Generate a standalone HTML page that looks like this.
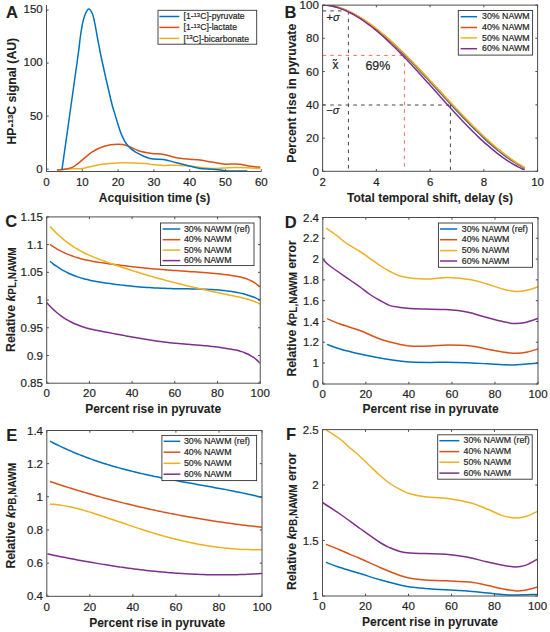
<!DOCTYPE html><html><head><meta charset="utf-8"><style>html,body{margin:0;padding:0;background:#fff;}svg{display:block;}text{font-family:"Liberation Sans", sans-serif;stroke:#1f1f1f;stroke-width:0.2px;}text[font-weight=bold]{stroke-width:0.08px;}</style></head><body>
<svg width="550" height="632" viewBox="0 0 550 632">
<rect width="550" height="632" fill="#fff"/>
<defs>
<clipPath id="cA"><rect x="46.50" y="0.00" width="214.80" height="171.60"/></clipPath>
<clipPath id="cB"><rect x="322.60" y="5.10" width="215.00" height="166.20"/></clipPath>
<clipPath id="cC"><rect x="46.70" y="216.90" width="213.50" height="166.30"/></clipPath>
<clipPath id="cD"><rect x="322.80" y="217.50" width="215.20" height="166.50"/></clipPath>
<clipPath id="cE"><rect x="46.80" y="430.50" width="215.20" height="165.80"/></clipPath>
<clipPath id="cF"><rect x="322.50" y="429.60" width="215.00" height="166.40"/></clipPath>
</defs>
<path d="M56.90,170.00 C59.63,169.80 69.05,169.07 73.30,168.80 C77.55,168.53 77.87,169.12 82.40,168.40 C86.93,167.68 94.60,165.42 100.50,164.50 C106.40,163.58 110.37,163.07 117.80,162.90 C125.23,162.73 139.43,163.23 145.10,163.50 C150.77,163.77 148.72,164.18 151.80,164.50 C154.88,164.82 159.65,165.28 163.60,165.40 C167.55,165.52 171.55,165.13 175.50,165.20 C179.45,165.27 183.22,165.47 187.30,165.80 C191.38,166.13 195.92,166.77 200.00,167.20 C204.08,167.63 207.87,168.27 211.80,168.40 C215.73,168.53 219.65,168.15 223.60,168.00 C227.55,167.85 231.55,167.53 235.50,167.50 C239.45,167.47 243.17,167.62 247.30,167.80 C251.43,167.98 258.13,168.47 260.30,168.60" fill="none" stroke="#edb120" stroke-width="1.5" stroke-linejoin="round" stroke-linecap="butt" clip-path="url(#cA)"/>
<path d="M56.90,170.00 C59.63,169.47 67.53,169.75 73.30,166.80 C79.07,163.85 86.35,155.72 91.50,152.30 C96.65,148.88 99.82,147.63 104.20,146.30 C108.58,144.97 113.95,144.40 117.80,144.30 C121.65,144.20 123.75,144.58 127.30,145.70 C130.85,146.82 135.02,149.72 139.10,151.00 C143.18,152.28 147.72,152.83 151.80,153.40 C155.88,153.97 159.65,153.72 163.60,154.40 C167.55,155.08 171.55,156.72 175.50,157.50 C179.45,158.28 183.22,158.67 187.30,159.10 C191.38,159.53 195.92,159.60 200.00,160.10 C204.08,160.60 207.87,161.43 211.80,162.10 C215.73,162.77 219.65,163.80 223.60,164.10 C227.55,164.40 232.53,163.83 235.50,163.90 C238.47,163.97 238.85,164.10 241.40,164.50 C243.95,164.90 247.65,165.85 250.80,166.30 C253.95,166.75 258.72,167.05 260.30,167.20" fill="none" stroke="#d95319" stroke-width="1.5" stroke-linejoin="round" stroke-linecap="butt" clip-path="url(#cA)"/>
<path d="M61.90,170.20 C64.48,151.83 74.35,82.03 77.40,60.00 C80.45,37.97 79.35,44.05 80.20,38.00 C81.05,31.95 81.67,27.67 82.50,23.70 C83.33,19.73 84.15,16.65 85.20,14.20 C86.25,11.75 87.57,9.00 88.80,9.00 C90.03,9.00 91.58,11.75 92.60,14.20 C93.62,16.65 94.08,19.73 94.90,23.70 C95.72,27.67 96.35,31.95 97.50,38.00 C98.65,44.05 99.57,49.67 101.80,60.00 C104.03,70.33 108.83,91.35 110.90,100.00 C112.97,108.65 113.05,107.95 114.20,111.90 C115.35,115.85 116.52,119.75 117.80,123.70 C119.08,127.65 120.32,132.03 121.90,135.60 C123.48,139.17 125.02,142.33 127.30,145.10 C129.58,147.87 131.85,149.98 135.60,152.20 C139.35,154.42 145.13,157.18 149.80,158.40 C154.47,159.62 159.32,158.82 163.60,159.50 C167.88,160.18 171.55,161.52 175.50,162.50 C179.45,163.48 183.22,164.38 187.30,165.40 C191.38,166.42 195.92,167.97 200.00,168.60 C204.08,169.23 207.87,168.90 211.80,169.20 C215.73,169.50 220.65,170.10 223.60,170.40 C226.55,170.70 225.55,170.90 229.50,171.00 C233.45,171.10 244.33,171.00 247.30,171.00" fill="none" stroke="#0072bd" stroke-width="1.5" stroke-linejoin="round" stroke-linecap="butt" clip-path="url(#cA)"/>
<path d="M46.50,5.00 L46.50,171.50 L261.30,171.50" fill="none" stroke="#4d4d4d" stroke-width="1"/>
<line x1="46.50" y1="171.50" x2="46.50" y2="169.30" stroke="#4d4d4d" stroke-width="1"/>
<text x="46.50" y="185.70" font-size="11.5" text-anchor="middle" font-weight="normal" fill="#1f1f1f">0</text>
<line x1="82.30" y1="171.50" x2="82.30" y2="169.30" stroke="#4d4d4d" stroke-width="1"/>
<text x="82.30" y="185.70" font-size="11.5" text-anchor="middle" font-weight="normal" fill="#1f1f1f">10</text>
<line x1="118.10" y1="171.50" x2="118.10" y2="169.30" stroke="#4d4d4d" stroke-width="1"/>
<text x="118.10" y="185.70" font-size="11.5" text-anchor="middle" font-weight="normal" fill="#1f1f1f">20</text>
<line x1="153.90" y1="171.50" x2="153.90" y2="169.30" stroke="#4d4d4d" stroke-width="1"/>
<text x="153.90" y="185.70" font-size="11.5" text-anchor="middle" font-weight="normal" fill="#1f1f1f">30</text>
<line x1="189.70" y1="171.50" x2="189.70" y2="169.30" stroke="#4d4d4d" stroke-width="1"/>
<text x="189.70" y="185.70" font-size="11.5" text-anchor="middle" font-weight="normal" fill="#1f1f1f">40</text>
<line x1="225.50" y1="171.50" x2="225.50" y2="169.30" stroke="#4d4d4d" stroke-width="1"/>
<text x="225.50" y="185.70" font-size="11.5" text-anchor="middle" font-weight="normal" fill="#1f1f1f">50</text>
<line x1="261.30" y1="171.50" x2="261.30" y2="169.30" stroke="#4d4d4d" stroke-width="1"/>
<text x="261.30" y="185.70" font-size="11.5" text-anchor="middle" font-weight="normal" fill="#1f1f1f">60</text>
<line x1="46.50" y1="169.20" x2="48.70" y2="169.20" stroke="#4d4d4d" stroke-width="1"/>
<text x="42.70" y="172.60" font-size="11.5" text-anchor="end" font-weight="normal" fill="#1f1f1f">0</text>
<line x1="46.50" y1="116.13" x2="48.70" y2="116.13" stroke="#4d4d4d" stroke-width="1"/>
<text x="42.70" y="119.53" font-size="11.5" text-anchor="end" font-weight="normal" fill="#1f1f1f">50</text>
<line x1="46.50" y1="63.07" x2="48.70" y2="63.07" stroke="#4d4d4d" stroke-width="1"/>
<text x="42.70" y="66.47" font-size="11.5" text-anchor="end" font-weight="normal" fill="#1f1f1f">100</text>
<line x1="46.50" y1="10.00" x2="48.70" y2="10.00" stroke="#4d4d4d" stroke-width="1"/>
<text x="42.70" y="13.40" font-size="11.5" text-anchor="end" font-weight="normal" fill="#1f1f1f">150</text>
<rect x="158.00" y="10.30" width="98.70" height="33.90" fill="#fff" stroke="#333" stroke-width="0.9"/>
<line x1="159.40" y1="16.50" x2="179.30" y2="16.50" stroke="#0072bd" stroke-width="1.5"/>
<text x="183.50" y="19.10" font-size="8.6" text-anchor="start" font-weight="normal" fill="#1f1f1f">[1-<tspan font-size="6" dy="-2.2">13</tspan><tspan dy="2.2">C]-pyruvate</tspan></text>
<line x1="159.40" y1="27.40" x2="179.30" y2="27.40" stroke="#d95319" stroke-width="1.5"/>
<text x="183.50" y="30.00" font-size="8.6" text-anchor="start" font-weight="normal" fill="#1f1f1f">[1-<tspan font-size="6" dy="-2.2">13</tspan><tspan dy="2.2">C]-lactate</tspan></text>
<line x1="159.40" y1="38.40" x2="179.30" y2="38.40" stroke="#edb120" stroke-width="1.5"/>
<text x="183.50" y="41.50" font-size="8.6" text-anchor="start" font-weight="normal" fill="#1f1f1f">[<tspan font-size="6" dy="-2.2">13</tspan><tspan dy="2.2">C]-bicarbonate</tspan></text>
<text x="154.50" y="201.80" font-size="12" text-anchor="middle" font-weight="bold" fill="#1f1f1f">Acquisition time (s)</text>
<text transform="translate(15.8,91.2) rotate(-90)" font-size="12.25" font-weight="bold" text-anchor="middle" fill="#1f1f1f">HP-<tspan font-size="7.8" dy="-2.4">13</tspan><tspan dy="2.4">C signal (AU)</tspan></text>
<text x="6.00" y="18.00" font-size="16.5" text-anchor="start" font-weight="bold" fill="#1f1f1f">A</text>
<line x1="322.60" y1="10.9" x2="348.4" y2="10.9" stroke="#444" stroke-width="1" stroke-dasharray="3.5 4.2"/>
<line x1="348.4" y1="11" x2="348.4" y2="171.3" stroke="#444" stroke-width="1" stroke-dasharray="3.5 4.2"/>
<line x1="322.60" y1="55.4" x2="404.4" y2="55.4" stroke="#ff6a5a" stroke-width="1" stroke-dasharray="3.5 4.2"/>
<line x1="404.4" y1="55.4" x2="404.4" y2="171.3" stroke="#ff6a5a" stroke-width="1" stroke-dasharray="3.5 4.2"/>
<line x1="322.60" y1="105" x2="450.4" y2="105" stroke="#444" stroke-width="1" stroke-dasharray="3.5 4.2"/>
<line x1="450.4" y1="105" x2="450.4" y2="171.3" stroke="#444" stroke-width="1" stroke-dasharray="3.5 4.2"/>
<path d="M322.60,5.20 C323.27,5.16 325.27,4.90 326.60,4.97 C327.93,5.03 329.27,5.33 330.60,5.58 C331.93,5.84 333.27,6.13 334.60,6.47 C335.93,6.81 337.27,7.20 338.60,7.62 C339.93,8.04 341.27,8.51 342.60,9.01 C343.93,9.52 345.27,10.06 346.60,10.65 C347.93,11.23 349.27,11.85 350.60,12.51 C351.93,13.17 353.27,13.86 354.60,14.59 C355.93,15.32 357.27,16.08 358.60,16.88 C359.93,17.68 361.27,18.51 362.60,19.37 C363.93,20.23 365.27,21.13 366.60,22.05 C367.93,22.97 369.27,23.92 370.60,24.90 C371.93,25.88 373.27,26.89 374.60,27.93 C375.93,28.96 377.27,30.03 378.60,31.11 C379.93,32.20 381.27,33.31 382.60,34.45 C383.93,35.58 385.27,36.74 386.60,37.92 C387.93,39.10 389.27,40.30 390.60,41.52 C391.93,42.74 393.27,43.98 394.60,45.24 C395.93,46.50 397.27,47.77 398.60,49.07 C399.93,50.36 401.27,51.67 402.60,52.99 C403.93,54.32 405.27,55.66 406.60,57.01 C407.93,58.36 409.27,59.73 410.60,61.10 C411.93,62.48 413.27,63.87 414.60,65.27 C415.93,66.66 417.27,68.07 418.60,69.49 C419.93,70.90 421.27,72.33 422.60,73.76 C423.93,75.19 425.27,76.63 426.60,78.07 C427.93,79.51 429.27,80.96 430.60,82.41 C431.93,83.86 433.27,85.31 434.60,86.76 C435.93,88.22 437.27,89.67 438.60,91.13 C439.93,92.59 441.27,94.04 442.60,95.50 C443.93,96.95 445.27,98.40 446.60,99.85 C447.93,101.30 449.27,102.74 450.60,104.18 C451.93,105.62 453.27,107.06 454.60,108.48 C455.93,109.91 457.27,111.33 458.60,112.74 C459.93,114.16 461.27,115.56 462.60,116.95 C463.93,118.35 465.27,119.73 466.60,121.10 C467.93,122.47 469.27,123.83 470.60,125.18 C471.93,126.52 473.27,127.86 474.60,129.18 C475.93,130.49 477.27,131.80 478.60,133.08 C479.93,134.37 481.27,135.63 482.60,136.88 C483.93,138.13 485.27,139.37 486.60,140.58 C487.93,141.79 489.27,142.98 490.60,144.15 C491.93,145.32 493.27,146.47 494.60,147.59 C495.93,148.71 497.27,149.81 498.60,150.89 C499.93,151.96 501.27,153.01 502.60,154.04 C503.93,155.06 505.27,156.06 506.60,157.02 C507.93,157.99 509.27,158.93 510.60,159.84 C511.93,160.75 513.27,161.63 514.60,162.48 C515.93,163.32 517.27,164.14 518.60,164.92 C519.93,165.70 521.57,166.60 522.60,167.16 C523.63,167.73 524.43,168.12 524.80,168.31" fill="none" stroke="#0072bd" stroke-width="1.5" stroke-linejoin="round" stroke-linecap="butt" clip-path="url(#cB)"/>
<path d="M322.60,5.20 C323.27,5.15 325.27,4.85 326.60,4.91 C327.93,4.96 329.27,5.27 330.60,5.52 C331.93,5.77 333.27,6.07 334.60,6.40 C335.93,6.74 337.27,7.12 338.60,7.53 C339.93,7.95 341.27,8.41 342.60,8.91 C343.93,9.41 345.27,9.95 346.60,10.52 C347.93,11.10 349.27,11.71 350.60,12.36 C351.93,13.01 353.27,13.70 354.60,14.41 C355.93,15.13 357.27,15.89 358.60,16.67 C359.93,17.46 361.27,18.28 362.60,19.13 C363.93,19.98 365.27,20.86 366.60,21.77 C367.93,22.68 369.27,23.62 370.60,24.58 C371.93,25.55 373.27,26.55 374.60,27.57 C375.93,28.59 377.27,29.64 378.60,30.71 C379.93,31.78 381.27,32.88 382.60,34.00 C383.93,35.11 385.27,36.26 386.60,37.42 C387.93,38.58 389.27,39.77 390.60,40.98 C391.93,42.18 393.27,43.41 394.60,44.65 C395.93,45.89 397.27,47.15 398.60,48.43 C399.93,49.71 401.27,51.00 402.60,52.31 C403.93,53.62 405.27,54.94 406.60,56.28 C407.93,57.61 409.27,58.96 410.60,60.33 C411.93,61.69 413.27,63.06 414.60,64.44 C415.93,65.83 417.27,67.22 418.60,68.62 C419.93,70.02 421.27,71.44 422.60,72.85 C423.93,74.27 425.27,75.69 426.60,77.12 C427.93,78.55 429.27,79.99 430.60,81.42 C431.93,82.86 433.27,84.30 434.60,85.75 C435.93,87.19 437.27,88.63 438.60,90.08 C439.93,91.52 441.27,92.97 442.60,94.42 C443.93,95.86 445.27,97.30 446.60,98.74 C447.93,100.18 449.27,101.62 450.60,103.06 C451.93,104.49 453.27,105.92 454.60,107.34 C455.93,108.76 457.27,110.18 458.60,111.59 C459.93,113.00 461.27,114.40 462.60,115.79 C463.93,117.18 465.27,118.56 466.60,119.93 C467.93,121.30 469.27,122.66 470.60,124.01 C471.93,125.36 473.27,126.69 474.60,128.02 C475.93,129.34 477.27,130.64 478.60,131.93 C479.93,133.22 481.27,134.50 482.60,135.76 C483.93,137.01 485.27,138.25 486.60,139.48 C487.93,140.70 489.27,141.90 490.60,143.08 C491.93,144.26 493.27,145.42 494.60,146.56 C495.93,147.70 497.27,148.82 498.60,149.91 C499.93,151.00 501.27,152.07 502.60,153.11 C503.93,154.15 505.27,155.17 506.60,156.16 C507.93,157.15 509.27,158.11 510.60,159.05 C511.93,159.98 513.27,160.89 514.60,161.76 C515.93,162.64 517.27,163.48 518.60,164.30 C519.93,165.11 521.53,166.03 522.60,166.64 C523.67,167.24 524.60,167.73 525.00,167.95" fill="none" stroke="#d95319" stroke-width="1.5" stroke-linejoin="round" stroke-linecap="butt" clip-path="url(#cB)"/>
<path d="M322.60,5.20 C323.27,5.15 325.27,4.83 326.60,4.88 C327.93,4.92 329.27,5.24 330.60,5.49 C331.93,5.74 333.27,6.03 334.60,6.37 C335.93,6.70 337.27,7.08 338.60,7.49 C339.93,7.91 341.27,8.37 342.60,8.86 C343.93,9.36 345.27,9.89 346.60,10.46 C347.93,11.03 349.27,11.64 350.60,12.29 C351.93,12.93 353.27,13.61 354.60,14.33 C355.93,15.04 357.27,15.79 358.60,16.57 C359.93,17.35 361.27,18.16 362.60,19.00 C363.93,19.85 365.27,20.72 366.60,21.63 C367.93,22.53 369.27,23.46 370.60,24.42 C371.93,25.38 373.27,26.37 374.60,27.39 C375.93,28.40 377.27,29.44 378.60,30.50 C379.93,31.57 381.27,32.66 382.60,33.77 C383.93,34.88 385.27,36.02 386.60,37.17 C387.93,38.33 389.27,39.51 390.60,40.70 C391.93,41.90 393.27,43.12 394.60,44.35 C395.93,45.59 397.27,46.84 398.60,48.11 C399.93,49.38 401.27,50.67 402.60,51.97 C403.93,53.27 405.27,54.58 406.60,55.91 C407.93,57.24 409.27,58.58 410.60,59.94 C411.93,61.29 413.27,62.66 414.60,64.03 C415.93,65.41 417.27,66.80 418.60,68.19 C419.93,69.58 421.27,70.99 422.60,72.40 C423.93,73.81 425.27,75.23 426.60,76.65 C427.93,78.07 429.27,79.50 430.60,80.93 C431.93,82.36 433.27,83.80 434.60,85.24 C435.93,86.67 437.27,88.11 438.60,89.55 C439.93,90.99 441.27,92.44 442.60,93.88 C443.93,95.32 445.27,96.76 446.60,98.19 C447.93,99.63 449.27,101.06 450.60,102.49 C451.93,103.92 453.27,105.35 454.60,106.77 C455.93,108.19 457.27,109.60 458.60,111.01 C459.93,112.41 461.27,113.82 462.60,115.21 C463.93,116.60 465.27,117.98 466.60,119.35 C467.93,120.72 469.27,122.08 470.60,123.43 C471.93,124.78 473.27,126.11 474.60,127.43 C475.93,128.76 477.27,130.07 478.60,131.36 C479.93,132.65 481.27,133.93 482.60,135.19 C483.93,136.45 485.27,137.70 486.60,138.92 C487.93,140.15 489.27,141.36 490.60,142.55 C491.93,143.73 493.27,144.90 494.60,146.05 C495.93,147.19 497.27,148.32 498.60,149.42 C499.93,150.52 501.27,151.59 502.60,152.65 C503.93,153.70 505.27,154.73 506.60,155.73 C507.93,156.73 509.27,157.70 510.60,158.65 C511.93,159.60 513.27,160.52 514.60,161.41 C515.93,162.29 517.27,163.16 518.60,163.98 C519.93,164.81 521.53,165.75 522.60,166.37 C523.67,166.99 524.60,167.49 525.00,167.71" fill="none" stroke="#edb120" stroke-width="1.5" stroke-linejoin="round" stroke-linecap="butt" clip-path="url(#cB)"/>
<path d="M322.60,5.20 C323.27,5.20 325.27,5.07 326.60,5.18 C327.93,5.28 329.27,5.55 330.60,5.81 C331.93,6.06 333.27,6.37 334.60,6.72 C335.93,7.07 337.27,7.47 338.60,7.91 C339.93,8.36 341.27,8.84 342.60,9.37 C343.93,9.90 345.27,10.47 346.60,11.08 C347.93,11.69 349.27,12.34 350.60,13.03 C351.93,13.72 353.27,14.45 354.60,15.21 C355.93,15.98 357.27,16.78 358.60,17.61 C359.93,18.45 361.27,19.32 362.60,20.22 C363.93,21.13 365.27,22.07 366.60,23.03 C367.93,24.00 369.27,25.00 370.60,26.03 C371.93,27.06 373.27,28.11 374.60,29.20 C375.93,30.28 377.27,31.40 378.60,32.53 C379.93,33.67 381.27,34.84 382.60,36.02 C383.93,37.21 385.27,38.42 386.60,39.66 C387.93,40.89 389.27,42.14 390.60,43.42 C391.93,44.69 393.27,45.99 394.60,47.30 C395.93,48.61 397.27,49.95 398.60,51.29 C399.93,52.64 401.27,54.01 402.60,55.39 C403.93,56.76 405.27,58.16 406.60,59.56 C407.93,60.97 409.27,62.39 410.60,63.82 C411.93,65.25 413.27,66.69 414.60,68.14 C415.93,69.59 417.27,71.05 418.60,72.51 C419.93,73.98 421.27,75.45 422.60,76.93 C423.93,78.41 425.27,79.89 426.60,81.38 C427.93,82.87 429.27,84.36 430.60,85.85 C431.93,87.34 433.27,88.84 434.60,90.33 C435.93,91.82 437.27,93.32 438.60,94.81 C439.93,96.30 441.27,97.79 442.60,99.27 C443.93,100.76 445.27,102.24 446.60,103.72 C447.93,105.19 449.27,106.66 450.60,108.12 C451.93,109.59 453.27,111.04 454.60,112.49 C455.93,113.93 457.27,115.37 458.60,116.79 C459.93,118.22 461.27,119.63 462.60,121.03 C463.93,122.43 465.27,123.82 466.60,125.20 C467.93,126.57 469.27,127.93 470.60,129.27 C471.93,130.61 473.27,131.93 474.60,133.24 C475.93,134.54 477.27,135.83 478.60,137.10 C479.93,138.36 481.27,139.61 482.60,140.83 C483.93,142.05 485.27,143.26 486.60,144.43 C487.93,145.61 489.27,146.76 490.60,147.89 C491.93,149.02 493.27,150.12 494.60,151.19 C495.93,152.27 497.27,153.31 498.60,154.33 C499.93,155.34 501.27,156.33 502.60,157.28 C503.93,158.24 505.27,159.16 506.60,160.05 C507.93,160.94 509.27,161.80 510.60,162.62 C511.93,163.44 513.27,164.23 514.60,164.97 C515.93,165.72 517.27,166.43 518.60,167.11 C519.93,167.78 521.60,168.55 522.60,169.01 C523.60,169.47 524.27,169.72 524.60,169.87" fill="none" stroke="#7e2f8e" stroke-width="1.5" stroke-linejoin="round" stroke-linecap="butt" clip-path="url(#cB)"/>
<rect x="322.60" y="5.10" width="215.00" height="166.20" fill="none" stroke="#4d4d4d" stroke-width="1"/>
<line x1="322.60" y1="171.30" x2="322.60" y2="169.10" stroke="#4d4d4d" stroke-width="1"/>
<line x1="322.60" y1="5.10" x2="322.60" y2="7.30" stroke="#4d4d4d" stroke-width="1"/>
<text x="322.60" y="185.50" font-size="11.5" text-anchor="middle" font-weight="normal" fill="#1f1f1f">2</text>
<line x1="376.35" y1="171.30" x2="376.35" y2="169.10" stroke="#4d4d4d" stroke-width="1"/>
<line x1="376.35" y1="5.10" x2="376.35" y2="7.30" stroke="#4d4d4d" stroke-width="1"/>
<text x="376.35" y="185.50" font-size="11.5" text-anchor="middle" font-weight="normal" fill="#1f1f1f">4</text>
<line x1="430.10" y1="171.30" x2="430.10" y2="169.10" stroke="#4d4d4d" stroke-width="1"/>
<line x1="430.10" y1="5.10" x2="430.10" y2="7.30" stroke="#4d4d4d" stroke-width="1"/>
<text x="430.10" y="185.50" font-size="11.5" text-anchor="middle" font-weight="normal" fill="#1f1f1f">6</text>
<line x1="483.85" y1="171.30" x2="483.85" y2="169.10" stroke="#4d4d4d" stroke-width="1"/>
<line x1="483.85" y1="5.10" x2="483.85" y2="7.30" stroke="#4d4d4d" stroke-width="1"/>
<text x="483.85" y="185.50" font-size="11.5" text-anchor="middle" font-weight="normal" fill="#1f1f1f">8</text>
<line x1="537.60" y1="171.30" x2="537.60" y2="169.10" stroke="#4d4d4d" stroke-width="1"/>
<line x1="537.60" y1="5.10" x2="537.60" y2="7.30" stroke="#4d4d4d" stroke-width="1"/>
<text x="537.60" y="185.50" font-size="11.5" text-anchor="middle" font-weight="normal" fill="#1f1f1f">10</text>
<line x1="322.60" y1="171.40" x2="324.80" y2="171.40" stroke="#4d4d4d" stroke-width="1"/>
<line x1="537.60" y1="171.40" x2="535.40" y2="171.40" stroke="#4d4d4d" stroke-width="1"/>
<text x="318.80" y="175.50" font-size="11.5" text-anchor="end" font-weight="normal" fill="#1f1f1f">0</text>
<line x1="322.60" y1="138.12" x2="324.80" y2="138.12" stroke="#4d4d4d" stroke-width="1"/>
<line x1="537.60" y1="138.12" x2="535.40" y2="138.12" stroke="#4d4d4d" stroke-width="1"/>
<text x="318.80" y="142.22" font-size="11.5" text-anchor="end" font-weight="normal" fill="#1f1f1f">20</text>
<line x1="322.60" y1="104.84" x2="324.80" y2="104.84" stroke="#4d4d4d" stroke-width="1"/>
<line x1="537.60" y1="104.84" x2="535.40" y2="104.84" stroke="#4d4d4d" stroke-width="1"/>
<text x="318.80" y="108.94" font-size="11.5" text-anchor="end" font-weight="normal" fill="#1f1f1f">40</text>
<line x1="322.60" y1="71.56" x2="324.80" y2="71.56" stroke="#4d4d4d" stroke-width="1"/>
<line x1="537.60" y1="71.56" x2="535.40" y2="71.56" stroke="#4d4d4d" stroke-width="1"/>
<text x="318.80" y="75.66" font-size="11.5" text-anchor="end" font-weight="normal" fill="#1f1f1f">60</text>
<line x1="322.60" y1="38.28" x2="324.80" y2="38.28" stroke="#4d4d4d" stroke-width="1"/>
<line x1="537.60" y1="38.28" x2="535.40" y2="38.28" stroke="#4d4d4d" stroke-width="1"/>
<text x="318.80" y="42.38" font-size="11.5" text-anchor="end" font-weight="normal" fill="#1f1f1f">80</text>
<line x1="322.60" y1="5.00" x2="324.80" y2="5.00" stroke="#4d4d4d" stroke-width="1"/>
<line x1="537.60" y1="5.00" x2="535.40" y2="5.00" stroke="#4d4d4d" stroke-width="1"/>
<text x="318.80" y="9.10" font-size="11.5" text-anchor="end" font-weight="normal" fill="#1f1f1f">100</text>
<rect x="458.30" y="10.50" width="74.30" height="44.60" fill="#fff" stroke="#333" stroke-width="0.9"/>
<line x1="460.70" y1="16.70" x2="477.10" y2="16.70" stroke="#0072bd" stroke-width="1.5"/>
<text x="482.00" y="19.30" font-size="8.8" text-anchor="start" font-weight="normal" fill="#1f1f1f">30% NAWM</text>
<line x1="460.70" y1="27.50" x2="477.10" y2="27.50" stroke="#d95319" stroke-width="1.5"/>
<text x="482.00" y="30.10" font-size="8.8" text-anchor="start" font-weight="normal" fill="#1f1f1f">40% NAWM</text>
<line x1="460.70" y1="37.90" x2="477.10" y2="37.90" stroke="#edb120" stroke-width="1.5"/>
<text x="482.00" y="40.50" font-size="8.8" text-anchor="start" font-weight="normal" fill="#1f1f1f">50% NAWM</text>
<line x1="460.70" y1="48.70" x2="477.10" y2="48.70" stroke="#7e2f8e" stroke-width="1.5"/>
<text x="482.00" y="51.30" font-size="8.8" text-anchor="start" font-weight="normal" fill="#1f1f1f">60% NAWM</text>
<text x="430.00" y="201.50" font-size="12" text-anchor="middle" font-weight="bold" fill="#1f1f1f">Total temporal shift, delay (s)</text>
<text transform="translate(295.6,93.2) rotate(-90)" font-size="12.25" font-weight="bold" text-anchor="middle" fill="#1f1f1f">Percent rise in pyruvate</text>
<text x="284.50" y="18.00" font-size="16.5" text-anchor="start" font-weight="bold" fill="#1f1f1f">B</text>
<text x="326.60" y="20.70" font-size="11" text-anchor="start" font-weight="normal" fill="#1f1f1f">+<tspan font-style="italic">σ</tspan></text>
<text x="326.20" y="113.90" font-size="11" text-anchor="start" font-weight="normal" fill="#1f1f1f">−<tspan font-style="italic">σ</tspan></text>
<text x="332.40" y="69.20" font-size="12" text-anchor="start" font-weight="normal" fill="#1f1f1f">x</text>
<path d="M332.9,60.7 C333.4,59.2 334.3,59.4 334.9,60 C335.5,60.6 336.2,60.5 336.6,59.2" fill="none" stroke="#1f1f1f" stroke-width="1.05"/>
<text x="365.40" y="69.80" font-size="12.4" text-anchor="start" font-weight="normal" fill="#1f1f1f">69%</text>
<path d="M50.00,261.41 C50.50,261.80 52.00,263.02 53.00,263.78 C54.00,264.54 55.00,265.27 56.00,265.97 C57.00,266.66 58.00,267.33 59.00,267.96 C60.00,268.60 61.00,269.21 62.00,269.79 C63.00,270.37 64.00,270.92 65.00,271.45 C66.00,271.97 67.00,272.47 68.00,272.95 C69.00,273.43 70.00,273.88 71.00,274.31 C72.00,274.74 73.00,275.15 74.00,275.54 C75.00,275.93 76.00,276.29 77.00,276.64 C78.00,276.99 79.00,277.32 80.00,277.63 C81.00,277.94 82.00,278.24 83.00,278.52 C84.00,278.80 85.00,279.06 86.00,279.31 C87.00,279.57 88.00,279.80 89.00,280.03 C90.00,280.25 91.00,280.47 92.00,280.67 C93.00,280.88 94.00,281.07 95.00,281.25 C96.00,281.44 97.00,281.61 98.00,281.78 C99.00,281.95 100.00,282.12 101.00,282.27 C102.00,282.43 103.00,282.58 104.00,282.73 C105.00,282.88 106.00,283.03 107.00,283.17 C108.00,283.32 109.00,283.46 110.00,283.60 C111.00,283.73 112.00,283.87 113.00,284.00 C114.00,284.14 115.00,284.27 116.00,284.39 C117.00,284.52 118.00,284.65 119.00,284.77 C120.00,284.89 121.00,285.01 122.00,285.13 C123.00,285.24 124.00,285.36 125.00,285.47 C126.00,285.58 127.00,285.69 128.00,285.79 C129.00,285.90 130.00,286.00 131.00,286.10 C132.00,286.20 133.00,286.30 134.00,286.39 C135.00,286.48 136.00,286.58 137.00,286.66 C138.00,286.75 139.00,286.84 140.00,286.92 C141.00,287.00 142.00,287.08 143.00,287.16 C144.00,287.24 145.00,287.31 146.00,287.39 C147.00,287.46 148.00,287.53 149.00,287.59 C150.00,287.66 151.00,287.72 152.00,287.78 C153.00,287.84 154.00,287.90 155.00,287.96 C156.00,288.01 157.00,288.06 158.00,288.11 C159.00,288.16 160.00,288.21 161.00,288.25 C162.00,288.30 163.00,288.34 164.00,288.37 C165.00,288.41 166.00,288.45 167.00,288.48 C168.00,288.51 169.00,288.54 170.00,288.57 C171.00,288.59 172.00,288.62 173.00,288.64 C174.00,288.66 175.00,288.68 176.00,288.70 C177.00,288.71 178.00,288.73 179.00,288.74 C180.00,288.75 181.00,288.77 182.00,288.78 C183.00,288.79 184.00,288.80 185.00,288.81 C186.00,288.82 187.00,288.83 188.00,288.85 C189.00,288.86 190.00,288.87 191.00,288.88 C192.00,288.90 193.00,288.91 194.00,288.93 C195.00,288.94 196.00,288.96 197.00,288.98 C198.00,289.00 199.00,289.03 200.00,289.05 C201.00,289.08 202.00,289.11 203.00,289.14 C204.00,289.17 205.00,289.21 206.00,289.25 C207.00,289.29 208.00,289.33 209.00,289.38 C210.00,289.43 211.00,289.48 212.00,289.54 C213.00,289.60 214.00,289.66 215.00,289.73 C216.00,289.81 217.00,289.88 218.00,289.96 C219.00,290.05 220.00,290.14 221.00,290.23 C222.00,290.33 223.00,290.43 224.00,290.55 C225.00,290.66 226.00,290.78 227.00,290.90 C228.00,291.03 229.00,291.17 230.00,291.31 C231.00,291.46 232.00,291.61 233.00,291.78 C234.00,291.94 235.00,292.11 236.00,292.30 C237.00,292.48 238.00,292.68 239.00,292.88 C240.00,293.09 241.00,293.32 242.00,293.55 C243.00,293.79 244.00,294.05 245.00,294.32 C246.00,294.59 247.00,294.88 248.00,295.19 C249.00,295.50 250.00,295.82 251.00,296.17 C252.00,296.53 253.00,296.90 254.00,297.29 C255.00,297.69 256.00,298.11 257.00,298.56 C258.00,299.01 259.47,299.73 260.00,299.98 C260.53,300.23 260.17,300.06 260.20,300.08" fill="none" stroke="#0072bd" stroke-width="1.5" stroke-linejoin="round" stroke-linecap="butt" clip-path="url(#cC)"/>
<path d="M50.00,244.42 C50.50,244.76 52.00,245.81 53.00,246.47 C54.00,247.13 55.00,247.75 56.00,248.35 C57.00,248.95 58.00,249.53 59.00,250.08 C60.00,250.63 61.00,251.15 62.00,251.65 C63.00,252.15 64.00,252.63 65.00,253.08 C66.00,253.54 67.00,253.97 68.00,254.39 C69.00,254.80 70.00,255.19 71.00,255.56 C72.00,255.94 73.00,256.29 74.00,256.63 C75.00,256.97 76.00,257.29 77.00,257.59 C78.00,257.89 79.00,258.18 80.00,258.46 C81.00,258.73 82.00,258.99 83.00,259.24 C84.00,259.48 85.00,259.72 86.00,259.94 C87.00,260.16 88.00,260.37 89.00,260.58 C90.00,260.78 91.00,260.97 92.00,261.15 C93.00,261.34 94.00,261.51 95.00,261.68 C96.00,261.85 97.00,262.01 98.00,262.17 C99.00,262.33 100.00,262.48 101.00,262.63 C102.00,262.78 103.00,262.92 104.00,263.07 C105.00,263.21 106.00,263.35 107.00,263.49 C108.00,263.63 109.00,263.77 110.00,263.91 C111.00,264.04 112.00,264.18 113.00,264.31 C114.00,264.45 115.00,264.58 116.00,264.71 C117.00,264.84 118.00,264.97 119.00,265.10 C120.00,265.22 121.00,265.35 122.00,265.47 C123.00,265.60 124.00,265.72 125.00,265.84 C126.00,265.96 127.00,266.08 128.00,266.20 C129.00,266.32 130.00,266.43 131.00,266.55 C132.00,266.66 133.00,266.77 134.00,266.88 C135.00,266.99 136.00,267.10 137.00,267.21 C138.00,267.32 139.00,267.43 140.00,267.53 C141.00,267.63 142.00,267.74 143.00,267.84 C144.00,267.94 145.00,268.04 146.00,268.14 C147.00,268.23 148.00,268.33 149.00,268.42 C150.00,268.52 151.00,268.61 152.00,268.70 C153.00,268.79 154.00,268.88 155.00,268.97 C156.00,269.06 157.00,269.14 158.00,269.23 C159.00,269.31 160.00,269.40 161.00,269.48 C162.00,269.56 163.00,269.64 164.00,269.72 C165.00,269.80 166.00,269.88 167.00,269.95 C168.00,270.03 169.00,270.11 170.00,270.18 C171.00,270.26 172.00,270.33 173.00,270.41 C174.00,270.48 175.00,270.55 176.00,270.62 C177.00,270.69 178.00,270.76 179.00,270.84 C180.00,270.91 181.00,270.97 182.00,271.04 C183.00,271.11 184.00,271.18 185.00,271.25 C186.00,271.32 187.00,271.38 188.00,271.45 C189.00,271.52 190.00,271.59 191.00,271.65 C192.00,271.72 193.00,271.79 194.00,271.85 C195.00,271.92 196.00,271.99 197.00,272.05 C198.00,272.12 199.00,272.19 200.00,272.26 C201.00,272.33 202.00,272.40 203.00,272.47 C204.00,272.54 205.00,272.62 206.00,272.69 C207.00,272.77 208.00,272.85 209.00,272.93 C210.00,273.01 211.00,273.09 212.00,273.18 C213.00,273.27 214.00,273.36 215.00,273.45 C216.00,273.54 217.00,273.64 218.00,273.74 C219.00,273.84 220.00,273.95 221.00,274.06 C222.00,274.17 223.00,274.29 224.00,274.41 C225.00,274.53 226.00,274.65 227.00,274.79 C228.00,274.92 229.00,275.05 230.00,275.20 C231.00,275.34 232.00,275.49 233.00,275.65 C234.00,275.80 235.00,275.96 236.00,276.14 C237.00,276.32 238.00,276.50 239.00,276.71 C240.00,276.92 241.00,277.15 242.00,277.41 C243.00,277.67 244.00,277.96 245.00,278.29 C246.00,278.62 247.00,278.98 248.00,279.39 C249.00,279.80 250.00,280.25 251.00,280.77 C252.00,281.28 253.00,281.84 254.00,282.46 C255.00,283.09 256.00,283.78 257.00,284.54 C258.00,285.30 259.50,286.61 260.00,287.03" fill="none" stroke="#d95319" stroke-width="1.5" stroke-linejoin="round" stroke-linecap="butt" clip-path="url(#cC)"/>
<path d="M50.00,226.50 C50.50,227.03 52.00,228.65 53.00,229.68 C54.00,230.71 55.00,231.72 56.00,232.69 C57.00,233.66 58.00,234.60 59.00,235.51 C60.00,236.43 61.00,237.31 62.00,238.17 C63.00,239.03 64.00,239.85 65.00,240.65 C66.00,241.45 67.00,242.23 68.00,242.97 C69.00,243.72 70.00,244.43 71.00,245.12 C72.00,245.81 73.00,246.48 74.00,247.12 C75.00,247.75 76.00,248.37 77.00,248.96 C78.00,249.55 79.00,250.12 80.00,250.67 C81.00,251.22 82.00,251.74 83.00,252.25 C84.00,252.76 85.00,253.25 86.00,253.73 C87.00,254.20 88.00,254.66 89.00,255.11 C90.00,255.55 91.00,255.98 92.00,256.40 C93.00,256.82 94.00,257.23 95.00,257.63 C96.00,258.03 97.00,258.41 98.00,258.80 C99.00,259.18 100.00,259.55 101.00,259.92 C102.00,260.29 103.00,260.65 104.00,261.01 C105.00,261.38 106.00,261.73 107.00,262.09 C108.00,262.45 109.00,262.80 110.00,263.15 C111.00,263.50 112.00,263.85 113.00,264.20 C114.00,264.55 115.00,264.89 116.00,265.23 C117.00,265.57 118.00,265.91 119.00,266.25 C120.00,266.59 121.00,266.93 122.00,267.26 C123.00,267.59 124.00,267.92 125.00,268.25 C126.00,268.58 127.00,268.91 128.00,269.23 C129.00,269.56 130.00,269.88 131.00,270.20 C132.00,270.52 133.00,270.83 134.00,271.15 C135.00,271.46 136.00,271.77 137.00,272.08 C138.00,272.39 139.00,272.70 140.00,273.01 C141.00,273.31 142.00,273.62 143.00,273.92 C144.00,274.22 145.00,274.51 146.00,274.81 C147.00,275.11 148.00,275.40 149.00,275.69 C150.00,275.98 151.00,276.27 152.00,276.56 C153.00,276.84 154.00,277.13 155.00,277.41 C156.00,277.69 157.00,277.97 158.00,278.25 C159.00,278.52 160.00,278.80 161.00,279.07 C162.00,279.34 163.00,279.62 164.00,279.88 C165.00,280.15 166.00,280.42 167.00,280.68 C168.00,280.95 169.00,281.21 170.00,281.47 C171.00,281.73 172.00,281.99 173.00,282.25 C174.00,282.50 175.00,282.76 176.00,283.01 C177.00,283.26 178.00,283.51 179.00,283.76 C180.00,284.01 181.00,284.26 182.00,284.50 C183.00,284.75 184.00,284.99 185.00,285.24 C186.00,285.48 187.00,285.72 188.00,285.96 C189.00,286.20 190.00,286.43 191.00,286.67 C192.00,286.90 193.00,287.14 194.00,287.37 C195.00,287.60 196.00,287.84 197.00,288.07 C198.00,288.30 199.00,288.52 200.00,288.75 C201.00,288.98 202.00,289.20 203.00,289.43 C204.00,289.65 205.00,289.88 206.00,290.10 C207.00,290.32 208.00,290.54 209.00,290.76 C210.00,290.98 211.00,291.20 212.00,291.41 C213.00,291.63 214.00,291.85 215.00,292.06 C216.00,292.28 217.00,292.49 218.00,292.71 C219.00,292.92 220.00,293.13 221.00,293.34 C222.00,293.55 223.00,293.76 224.00,293.97 C225.00,294.18 226.00,294.39 227.00,294.60 C228.00,294.81 229.00,295.01 230.00,295.22 C231.00,295.43 232.00,295.63 233.00,295.84 C234.00,296.04 235.00,296.25 236.00,296.45 C237.00,296.66 238.00,296.87 239.00,297.08 C240.00,297.30 241.00,297.52 242.00,297.75 C243.00,297.99 244.00,298.23 245.00,298.49 C246.00,298.75 247.00,299.02 248.00,299.32 C249.00,299.62 250.00,299.93 251.00,300.27 C252.00,300.61 253.00,300.96 254.00,301.35 C255.00,301.74 256.00,302.16 257.00,302.61 C258.00,303.06 259.47,303.80 260.00,304.06 C260.53,304.32 260.17,304.14 260.20,304.16" fill="none" stroke="#edb120" stroke-width="1.5" stroke-linejoin="round" stroke-linecap="butt" clip-path="url(#cC)"/>
<path d="M46.60,302.51 C47.10,303.06 48.60,304.75 49.60,305.80 C50.60,306.85 51.60,307.85 52.60,308.81 C53.60,309.76 54.60,310.67 55.60,311.55 C56.60,312.42 57.60,313.24 58.60,314.03 C59.60,314.82 60.60,315.57 61.60,316.29 C62.60,317.00 63.60,317.67 64.60,318.32 C65.60,318.96 66.60,319.57 67.60,320.14 C68.60,320.72 69.60,321.26 70.60,321.78 C71.60,322.30 72.60,322.78 73.60,323.24 C74.60,323.70 75.60,324.14 76.60,324.55 C77.60,324.96 78.60,325.34 79.60,325.71 C80.60,326.07 81.60,326.41 82.60,326.74 C83.60,327.06 84.60,327.37 85.60,327.66 C86.60,327.95 87.60,328.22 88.60,328.48 C89.60,328.74 90.60,328.99 91.60,329.22 C92.60,329.46 93.60,329.68 94.60,329.90 C95.60,330.12 96.60,330.32 97.60,330.52 C98.60,330.73 99.60,330.92 100.60,331.11 C101.60,331.31 102.60,331.49 103.60,331.68 C104.60,331.87 105.60,332.06 106.60,332.25 C107.60,332.44 108.60,332.62 109.60,332.81 C110.60,333.00 111.60,333.19 112.60,333.38 C113.60,333.57 114.60,333.76 115.60,333.95 C116.60,334.14 117.60,334.33 118.60,334.51 C119.60,334.70 120.60,334.89 121.60,335.08 C122.60,335.26 123.60,335.45 124.60,335.63 C125.60,335.82 126.60,336.00 127.60,336.19 C128.60,336.37 129.60,336.55 130.60,336.73 C131.60,336.91 132.60,337.09 133.60,337.27 C134.60,337.45 135.60,337.63 136.60,337.80 C137.60,337.98 138.60,338.15 139.60,338.32 C140.60,338.49 141.60,338.66 142.60,338.83 C143.60,338.99 144.60,339.16 145.60,339.32 C146.60,339.48 147.60,339.64 148.60,339.80 C149.60,339.96 150.60,340.11 151.60,340.26 C152.60,340.42 153.60,340.57 154.60,340.71 C155.60,340.86 156.60,341.00 157.60,341.14 C158.60,341.28 159.60,341.42 160.60,341.55 C161.60,341.68 162.60,341.81 163.60,341.94 C164.60,342.07 165.60,342.19 166.60,342.31 C167.60,342.43 168.60,342.54 169.60,342.65 C170.60,342.76 171.60,342.87 172.60,342.97 C173.60,343.08 174.60,343.18 175.60,343.27 C176.60,343.37 177.60,343.46 178.60,343.55 C179.60,343.64 180.60,343.73 181.60,343.82 C182.60,343.90 183.60,343.98 184.60,344.07 C185.60,344.15 186.60,344.23 187.60,344.31 C188.60,344.39 189.60,344.47 190.60,344.55 C191.60,344.63 192.60,344.71 193.60,344.79 C194.60,344.87 195.60,344.95 196.60,345.03 C197.60,345.11 198.60,345.19 199.60,345.28 C200.60,345.36 201.60,345.45 202.60,345.54 C203.60,345.62 204.60,345.71 205.60,345.81 C206.60,345.90 207.60,346.00 208.60,346.10 C209.60,346.20 210.60,346.30 211.60,346.41 C212.60,346.52 213.60,346.63 214.60,346.74 C215.60,346.86 216.60,346.98 217.60,347.11 C218.60,347.24 219.60,347.37 220.60,347.51 C221.60,347.64 222.60,347.79 223.60,347.94 C224.60,348.09 225.60,348.25 226.60,348.41 C227.60,348.57 228.60,348.75 229.60,348.93 C230.60,349.11 231.60,349.29 232.60,349.49 C233.60,349.68 234.60,349.88 235.60,350.10 C236.60,350.32 237.60,350.55 238.60,350.80 C239.60,351.06 240.60,351.33 241.60,351.65 C242.60,351.96 243.60,352.29 244.60,352.68 C245.60,353.07 246.60,353.48 247.60,353.96 C248.60,354.44 249.60,354.96 250.60,355.54 C251.60,356.13 252.60,356.77 253.60,357.48 C254.60,358.20 255.60,358.97 256.60,359.83 C257.60,360.69 259.03,362.10 259.60,362.63 C260.17,363.17 259.93,362.98 260.00,363.05" fill="none" stroke="#7e2f8e" stroke-width="1.5" stroke-linejoin="round" stroke-linecap="butt" clip-path="url(#cC)"/>
<rect x="46.70" y="216.90" width="213.50" height="166.30" fill="none" stroke="#4d4d4d" stroke-width="1"/>
<line x1="46.70" y1="383.20" x2="46.70" y2="381.00" stroke="#4d4d4d" stroke-width="1"/>
<line x1="46.70" y1="216.90" x2="46.70" y2="219.10" stroke="#4d4d4d" stroke-width="1"/>
<text x="46.70" y="397.40" font-size="11.5" text-anchor="middle" font-weight="normal" fill="#1f1f1f">0</text>
<line x1="89.40" y1="383.20" x2="89.40" y2="381.00" stroke="#4d4d4d" stroke-width="1"/>
<line x1="89.40" y1="216.90" x2="89.40" y2="219.10" stroke="#4d4d4d" stroke-width="1"/>
<text x="89.40" y="397.40" font-size="11.5" text-anchor="middle" font-weight="normal" fill="#1f1f1f">20</text>
<line x1="132.10" y1="383.20" x2="132.10" y2="381.00" stroke="#4d4d4d" stroke-width="1"/>
<line x1="132.10" y1="216.90" x2="132.10" y2="219.10" stroke="#4d4d4d" stroke-width="1"/>
<text x="132.10" y="397.40" font-size="11.5" text-anchor="middle" font-weight="normal" fill="#1f1f1f">40</text>
<line x1="174.80" y1="383.20" x2="174.80" y2="381.00" stroke="#4d4d4d" stroke-width="1"/>
<line x1="174.80" y1="216.90" x2="174.80" y2="219.10" stroke="#4d4d4d" stroke-width="1"/>
<text x="174.80" y="397.40" font-size="11.5" text-anchor="middle" font-weight="normal" fill="#1f1f1f">60</text>
<line x1="217.50" y1="383.20" x2="217.50" y2="381.00" stroke="#4d4d4d" stroke-width="1"/>
<line x1="217.50" y1="216.90" x2="217.50" y2="219.10" stroke="#4d4d4d" stroke-width="1"/>
<text x="217.50" y="397.40" font-size="11.5" text-anchor="middle" font-weight="normal" fill="#1f1f1f">80</text>
<line x1="260.20" y1="383.20" x2="260.20" y2="381.00" stroke="#4d4d4d" stroke-width="1"/>
<line x1="260.20" y1="216.90" x2="260.20" y2="219.10" stroke="#4d4d4d" stroke-width="1"/>
<text x="260.20" y="397.40" font-size="11.5" text-anchor="middle" font-weight="normal" fill="#1f1f1f">100</text>
<line x1="46.70" y1="383.20" x2="48.90" y2="383.20" stroke="#4d4d4d" stroke-width="1"/>
<line x1="260.20" y1="383.20" x2="258.00" y2="383.20" stroke="#4d4d4d" stroke-width="1"/>
<text x="42.90" y="387.30" font-size="11.5" text-anchor="end" font-weight="normal" fill="#1f1f1f">0.85</text>
<line x1="46.70" y1="355.48" x2="48.90" y2="355.48" stroke="#4d4d4d" stroke-width="1"/>
<line x1="260.20" y1="355.48" x2="258.00" y2="355.48" stroke="#4d4d4d" stroke-width="1"/>
<text x="42.90" y="359.58" font-size="11.5" text-anchor="end" font-weight="normal" fill="#1f1f1f">0.9</text>
<line x1="46.70" y1="327.77" x2="48.90" y2="327.77" stroke="#4d4d4d" stroke-width="1"/>
<line x1="260.20" y1="327.77" x2="258.00" y2="327.77" stroke="#4d4d4d" stroke-width="1"/>
<text x="42.90" y="331.87" font-size="11.5" text-anchor="end" font-weight="normal" fill="#1f1f1f">0.95</text>
<line x1="46.70" y1="300.05" x2="48.90" y2="300.05" stroke="#4d4d4d" stroke-width="1"/>
<line x1="260.20" y1="300.05" x2="258.00" y2="300.05" stroke="#4d4d4d" stroke-width="1"/>
<text x="42.90" y="304.15" font-size="11.5" text-anchor="end" font-weight="normal" fill="#1f1f1f">1</text>
<line x1="46.70" y1="272.33" x2="48.90" y2="272.33" stroke="#4d4d4d" stroke-width="1"/>
<line x1="260.20" y1="272.33" x2="258.00" y2="272.33" stroke="#4d4d4d" stroke-width="1"/>
<text x="42.90" y="276.43" font-size="11.5" text-anchor="end" font-weight="normal" fill="#1f1f1f">1.05</text>
<line x1="46.70" y1="244.62" x2="48.90" y2="244.62" stroke="#4d4d4d" stroke-width="1"/>
<line x1="260.20" y1="244.62" x2="258.00" y2="244.62" stroke="#4d4d4d" stroke-width="1"/>
<text x="42.90" y="248.72" font-size="11.5" text-anchor="end" font-weight="normal" fill="#1f1f1f">1.1</text>
<line x1="46.70" y1="216.90" x2="48.90" y2="216.90" stroke="#4d4d4d" stroke-width="1"/>
<line x1="260.20" y1="216.90" x2="258.00" y2="216.90" stroke="#4d4d4d" stroke-width="1"/>
<text x="42.90" y="221.00" font-size="11.5" text-anchor="end" font-weight="normal" fill="#1f1f1f">1.15</text>
<rect x="160.50" y="223.00" width="93.50" height="42.60" fill="#fff" stroke="#333" stroke-width="0.9"/>
<line x1="162.60" y1="229.00" x2="180.30" y2="229.00" stroke="#0072bd" stroke-width="1.5"/>
<text x="183.90" y="231.60" font-size="8.8" text-anchor="start" font-weight="normal" fill="#1f1f1f">30% NAWM (ref)</text>
<line x1="162.60" y1="239.70" x2="180.30" y2="239.70" stroke="#d95319" stroke-width="1.5"/>
<text x="183.90" y="242.30" font-size="8.8" text-anchor="start" font-weight="normal" fill="#1f1f1f">40% NAWM</text>
<line x1="162.60" y1="250.10" x2="180.30" y2="250.10" stroke="#edb120" stroke-width="1.5"/>
<text x="183.90" y="252.70" font-size="8.8" text-anchor="start" font-weight="normal" fill="#1f1f1f">50% NAWM</text>
<line x1="162.60" y1="260.60" x2="180.30" y2="260.60" stroke="#7e2f8e" stroke-width="1.5"/>
<text x="183.90" y="263.20" font-size="8.8" text-anchor="start" font-weight="normal" fill="#1f1f1f">60% NAWM</text>
<text x="153.20" y="412.80" font-size="12" text-anchor="middle" font-weight="bold" fill="#1f1f1f">Percent rise in pyruvate</text>
<text transform="translate(14.8,299.7) rotate(-90)" font-size="12.25" font-weight="bold" text-anchor="middle" fill="#1f1f1f">Relative <tspan font-style="italic">k</tspan><tspan font-size="10" dy="1">PL,NAWM</tspan></text>
<text x="5.30" y="227.00" font-size="16.5" text-anchor="start" font-weight="bold" fill="#1f1f1f">C</text>
<path d="M326.00,228.00 C327.67,229.17 332.67,232.50 336.00,235.00 C339.33,237.50 342.00,240.25 346.00,243.00 C350.00,245.75 354.33,247.75 360.00,251.50 C365.67,255.25 375.00,262.17 380.00,265.50 C385.00,268.83 386.67,269.75 390.00,271.50 C393.33,273.25 396.00,274.82 400.00,276.00 C404.00,277.18 409.00,278.10 414.00,278.60 C419.00,279.10 424.33,279.17 430.00,279.00 C435.67,278.83 441.17,277.48 448.00,277.60 C454.83,277.72 464.37,278.58 471.00,279.70 C477.63,280.82 482.22,282.67 487.80,284.30 C493.38,285.93 499.63,288.28 504.50,289.50 C509.37,290.72 513.17,291.50 517.00,291.60 C520.83,291.70 524.00,290.90 527.50,290.10 C531.00,289.30 536.25,287.35 538.00,286.80" fill="none" stroke="#edb120" stroke-width="1.5" stroke-linejoin="round" stroke-linecap="butt" clip-path="url(#cD)"/>
<path d="M323.00,259.40 C324.17,260.50 325.50,262.57 330.00,266.00 C334.50,269.43 345.00,276.50 350.00,280.00 C355.00,283.50 356.67,284.58 360.00,287.00 C363.33,289.42 366.67,292.25 370.00,294.50 C373.33,296.75 376.67,298.65 380.00,300.50 C383.33,302.35 386.67,304.45 390.00,305.60 C393.33,306.75 396.67,306.93 400.00,307.40 C403.33,307.87 405.83,308.13 410.00,308.40 C414.17,308.67 419.02,308.80 425.00,309.00 C430.98,309.20 438.93,309.10 445.90,309.60 C452.87,310.10 459.82,310.63 466.80,312.00 C473.78,313.37 481.52,316.13 487.80,317.80 C494.08,319.47 499.97,321.03 504.50,322.00 C509.03,322.97 511.52,323.52 515.00,323.60 C518.48,323.68 521.57,323.37 525.40,322.50 C529.23,321.63 535.90,319.08 538.00,318.40" fill="none" stroke="#7e2f8e" stroke-width="1.5" stroke-linejoin="round" stroke-linecap="butt" clip-path="url(#cD)"/>
<path d="M327.00,318.60 C329.17,319.50 334.50,322.02 340.00,324.00 C345.50,325.98 353.33,328.00 360.00,330.50 C366.67,333.00 373.33,336.68 380.00,339.00 C386.67,341.32 395.00,343.23 400.00,344.40 C405.00,345.57 405.00,345.73 410.00,346.00 C415.00,346.27 423.67,346.17 430.00,346.00 C436.33,345.83 441.17,345.00 448.00,345.00 C454.83,345.00 464.37,345.30 471.00,346.00 C477.63,346.70 482.22,348.15 487.80,349.20 C493.38,350.25 499.63,351.62 504.50,352.30 C509.37,352.98 513.17,353.37 517.00,353.30 C520.83,353.23 524.00,352.62 527.50,351.90 C531.00,351.18 536.25,349.48 538.00,349.00" fill="none" stroke="#d95319" stroke-width="1.5" stroke-linejoin="round" stroke-linecap="butt" clip-path="url(#cD)"/>
<path d="M327.00,344.40 C329.17,345.17 334.50,347.40 340.00,349.00 C345.50,350.60 353.33,352.50 360.00,354.00 C366.67,355.50 373.33,356.83 380.00,358.00 C386.67,359.17 395.00,360.33 400.00,361.00 C405.00,361.67 405.00,361.77 410.00,362.00 C415.00,362.23 424.02,362.35 430.00,362.40 C435.98,362.45 439.77,362.23 445.90,362.30 C452.03,362.37 459.82,362.55 466.80,362.80 C473.78,363.05 480.12,363.45 487.80,363.80 C495.48,364.15 504.53,365.02 512.90,364.90 C521.27,364.78 533.82,363.40 538.00,363.10" fill="none" stroke="#0072bd" stroke-width="1.5" stroke-linejoin="round" stroke-linecap="butt" clip-path="url(#cD)"/>
<rect x="322.80" y="217.50" width="215.20" height="166.50" fill="none" stroke="#4d4d4d" stroke-width="1"/>
<line x1="322.80" y1="384.00" x2="322.80" y2="381.80" stroke="#4d4d4d" stroke-width="1"/>
<line x1="322.80" y1="217.50" x2="322.80" y2="219.70" stroke="#4d4d4d" stroke-width="1"/>
<text x="322.80" y="398.20" font-size="11.5" text-anchor="middle" font-weight="normal" fill="#1f1f1f">0</text>
<line x1="365.84" y1="384.00" x2="365.84" y2="381.80" stroke="#4d4d4d" stroke-width="1"/>
<line x1="365.84" y1="217.50" x2="365.84" y2="219.70" stroke="#4d4d4d" stroke-width="1"/>
<text x="365.84" y="398.20" font-size="11.5" text-anchor="middle" font-weight="normal" fill="#1f1f1f">20</text>
<line x1="408.88" y1="384.00" x2="408.88" y2="381.80" stroke="#4d4d4d" stroke-width="1"/>
<line x1="408.88" y1="217.50" x2="408.88" y2="219.70" stroke="#4d4d4d" stroke-width="1"/>
<text x="408.88" y="398.20" font-size="11.5" text-anchor="middle" font-weight="normal" fill="#1f1f1f">40</text>
<line x1="451.92" y1="384.00" x2="451.92" y2="381.80" stroke="#4d4d4d" stroke-width="1"/>
<line x1="451.92" y1="217.50" x2="451.92" y2="219.70" stroke="#4d4d4d" stroke-width="1"/>
<text x="451.92" y="398.20" font-size="11.5" text-anchor="middle" font-weight="normal" fill="#1f1f1f">60</text>
<line x1="494.96" y1="384.00" x2="494.96" y2="381.80" stroke="#4d4d4d" stroke-width="1"/>
<line x1="494.96" y1="217.50" x2="494.96" y2="219.70" stroke="#4d4d4d" stroke-width="1"/>
<text x="494.96" y="398.20" font-size="11.5" text-anchor="middle" font-weight="normal" fill="#1f1f1f">80</text>
<line x1="538.00" y1="384.00" x2="538.00" y2="381.80" stroke="#4d4d4d" stroke-width="1"/>
<line x1="538.00" y1="217.50" x2="538.00" y2="219.70" stroke="#4d4d4d" stroke-width="1"/>
<text x="538.00" y="398.20" font-size="11.5" text-anchor="middle" font-weight="normal" fill="#1f1f1f">100</text>
<line x1="322.80" y1="384.00" x2="325.00" y2="384.00" stroke="#4d4d4d" stroke-width="1"/>
<line x1="538.00" y1="384.00" x2="535.80" y2="384.00" stroke="#4d4d4d" stroke-width="1"/>
<text x="319.00" y="388.10" font-size="11.5" text-anchor="end" font-weight="normal" fill="#1f1f1f">0</text>
<line x1="322.80" y1="363.00" x2="325.00" y2="363.00" stroke="#4d4d4d" stroke-width="1"/>
<line x1="538.00" y1="363.00" x2="535.80" y2="363.00" stroke="#4d4d4d" stroke-width="1"/>
<text x="319.00" y="367.10" font-size="11.5" text-anchor="end" font-weight="normal" fill="#1f1f1f">1</text>
<line x1="322.80" y1="342.21" x2="325.00" y2="342.21" stroke="#4d4d4d" stroke-width="1"/>
<line x1="538.00" y1="342.21" x2="535.80" y2="342.21" stroke="#4d4d4d" stroke-width="1"/>
<text x="319.00" y="346.31" font-size="11.5" text-anchor="end" font-weight="normal" fill="#1f1f1f">1.2</text>
<line x1="322.80" y1="321.43" x2="325.00" y2="321.43" stroke="#4d4d4d" stroke-width="1"/>
<line x1="538.00" y1="321.43" x2="535.80" y2="321.43" stroke="#4d4d4d" stroke-width="1"/>
<text x="319.00" y="325.53" font-size="11.5" text-anchor="end" font-weight="normal" fill="#1f1f1f">1.4</text>
<line x1="322.80" y1="300.64" x2="325.00" y2="300.64" stroke="#4d4d4d" stroke-width="1"/>
<line x1="538.00" y1="300.64" x2="535.80" y2="300.64" stroke="#4d4d4d" stroke-width="1"/>
<text x="319.00" y="304.74" font-size="11.5" text-anchor="end" font-weight="normal" fill="#1f1f1f">1.6</text>
<line x1="322.80" y1="279.86" x2="325.00" y2="279.86" stroke="#4d4d4d" stroke-width="1"/>
<line x1="538.00" y1="279.86" x2="535.80" y2="279.86" stroke="#4d4d4d" stroke-width="1"/>
<text x="319.00" y="283.96" font-size="11.5" text-anchor="end" font-weight="normal" fill="#1f1f1f">1.8</text>
<line x1="322.80" y1="259.07" x2="325.00" y2="259.07" stroke="#4d4d4d" stroke-width="1"/>
<line x1="538.00" y1="259.07" x2="535.80" y2="259.07" stroke="#4d4d4d" stroke-width="1"/>
<text x="319.00" y="263.17" font-size="11.5" text-anchor="end" font-weight="normal" fill="#1f1f1f">2</text>
<line x1="322.80" y1="238.28" x2="325.00" y2="238.28" stroke="#4d4d4d" stroke-width="1"/>
<line x1="538.00" y1="238.28" x2="535.80" y2="238.28" stroke="#4d4d4d" stroke-width="1"/>
<text x="319.00" y="242.38" font-size="11.5" text-anchor="end" font-weight="normal" fill="#1f1f1f">2.2</text>
<line x1="322.80" y1="217.50" x2="325.00" y2="217.50" stroke="#4d4d4d" stroke-width="1"/>
<line x1="538.00" y1="217.50" x2="535.80" y2="217.50" stroke="#4d4d4d" stroke-width="1"/>
<text x="319.00" y="221.60" font-size="11.5" text-anchor="end" font-weight="normal" fill="#1f1f1f">2.4</text>
<rect x="438.40" y="223.00" width="94.10" height="44.30" fill="#fff" stroke="#333" stroke-width="0.9"/>
<line x1="440.00" y1="229.00" x2="457.20" y2="229.00" stroke="#0072bd" stroke-width="1.5"/>
<text x="461.80" y="231.60" font-size="8.8" text-anchor="start" font-weight="normal" fill="#1f1f1f">30% NAWM (ref)</text>
<line x1="440.00" y1="239.70" x2="457.20" y2="239.70" stroke="#d95319" stroke-width="1.5"/>
<text x="461.80" y="242.30" font-size="8.8" text-anchor="start" font-weight="normal" fill="#1f1f1f">40% NAWM</text>
<line x1="440.00" y1="250.60" x2="457.20" y2="250.60" stroke="#edb120" stroke-width="1.5"/>
<text x="461.80" y="253.20" font-size="8.8" text-anchor="start" font-weight="normal" fill="#1f1f1f">50% NAWM</text>
<line x1="440.00" y1="261.00" x2="457.20" y2="261.00" stroke="#7e2f8e" stroke-width="1.5"/>
<text x="461.80" y="263.60" font-size="8.8" text-anchor="start" font-weight="normal" fill="#1f1f1f">60% NAWM</text>
<text x="430.60" y="412.60" font-size="12" text-anchor="middle" font-weight="bold" fill="#1f1f1f">Percent rise in pyruvate</text>
<text transform="translate(296.1,308.4) rotate(-90)" font-size="12.25" font-weight="bold" text-anchor="middle" fill="#1f1f1f">Relative <tspan font-style="italic">k</tspan><tspan font-size="10" dy="1">PL,NAWM</tspan><tspan dy="-1"> error</tspan></text>
<text x="284.70" y="228.20" font-size="16.5" text-anchor="start" font-weight="bold" fill="#1f1f1f">D</text>
<path d="M50.00,441.18 C50.50,441.44 52.00,442.21 53.00,442.72 C54.00,443.23 55.00,443.73 56.00,444.23 C57.00,444.72 58.00,445.21 59.00,445.69 C60.00,446.17 61.00,446.65 62.00,447.12 C63.00,447.59 64.00,448.05 65.00,448.50 C66.00,448.96 67.00,449.41 68.00,449.85 C69.00,450.30 70.00,450.73 71.00,451.17 C72.00,451.60 73.00,452.02 74.00,452.44 C75.00,452.86 76.00,453.28 77.00,453.68 C78.00,454.09 79.00,454.49 80.00,454.89 C81.00,455.29 82.00,455.68 83.00,456.07 C84.00,456.45 85.00,456.83 86.00,457.21 C87.00,457.58 88.00,457.95 89.00,458.32 C90.00,458.68 91.00,459.04 92.00,459.40 C93.00,459.75 94.00,460.10 95.00,460.45 C96.00,460.79 97.00,461.13 98.00,461.47 C99.00,461.80 100.00,462.13 101.00,462.46 C102.00,462.79 103.00,463.11 104.00,463.43 C105.00,463.74 106.00,464.06 107.00,464.36 C108.00,464.67 109.00,464.98 110.00,465.28 C111.00,465.58 112.00,465.87 113.00,466.16 C114.00,466.46 115.00,466.74 116.00,467.03 C117.00,467.31 118.00,467.59 119.00,467.87 C120.00,468.15 121.00,468.42 122.00,468.69 C123.00,468.96 124.00,469.22 125.00,469.49 C126.00,469.75 127.00,470.01 128.00,470.26 C129.00,470.52 130.00,470.77 131.00,471.02 C132.00,471.27 133.00,471.51 134.00,471.76 C135.00,472.00 136.00,472.24 137.00,472.48 C138.00,472.72 139.00,472.95 140.00,473.18 C141.00,473.41 142.00,473.64 143.00,473.87 C144.00,474.09 145.00,474.32 146.00,474.54 C147.00,474.76 148.00,474.98 149.00,475.19 C150.00,475.41 151.00,475.63 152.00,475.84 C153.00,476.05 154.00,476.26 155.00,476.47 C156.00,476.67 157.00,476.88 158.00,477.08 C159.00,477.29 160.00,477.49 161.00,477.69 C162.00,477.89 163.00,478.09 164.00,478.29 C165.00,478.48 166.00,478.68 167.00,478.87 C168.00,479.07 169.00,479.26 170.00,479.45 C171.00,479.64 172.00,479.83 173.00,480.02 C174.00,480.21 175.00,480.39 176.00,480.58 C177.00,480.77 178.00,480.95 179.00,481.14 C180.00,481.32 181.00,481.51 182.00,481.69 C183.00,481.87 184.00,482.05 185.00,482.23 C186.00,482.42 187.00,482.60 188.00,482.78 C189.00,482.96 190.00,483.14 191.00,483.32 C192.00,483.50 193.00,483.68 194.00,483.85 C195.00,484.03 196.00,484.21 197.00,484.39 C198.00,484.57 199.00,484.75 200.00,484.93 C201.00,485.11 202.00,485.29 203.00,485.47 C204.00,485.64 205.00,485.82 206.00,486.00 C207.00,486.18 208.00,486.36 209.00,486.54 C210.00,486.73 211.00,486.91 212.00,487.09 C213.00,487.27 214.00,487.45 215.00,487.64 C216.00,487.82 217.00,488.00 218.00,488.19 C219.00,488.37 220.00,488.56 221.00,488.75 C222.00,488.93 223.00,489.12 224.00,489.31 C225.00,489.50 226.00,489.69 227.00,489.88 C228.00,490.08 229.00,490.27 230.00,490.46 C231.00,490.66 232.00,490.85 233.00,491.05 C234.00,491.25 235.00,491.45 236.00,491.65 C237.00,491.85 238.00,492.06 239.00,492.26 C240.00,492.47 241.00,492.67 242.00,492.88 C243.00,493.09 244.00,493.30 245.00,493.52 C246.00,493.73 247.00,493.95 248.00,494.16 C249.00,494.38 250.00,494.60 251.00,494.83 C252.00,495.05 253.00,495.27 254.00,495.50 C255.00,495.73 256.00,495.96 257.00,496.19 C258.00,496.43 259.17,496.70 260.00,496.90 C260.83,497.10 261.67,497.30 262.00,497.38" fill="none" stroke="#0072bd" stroke-width="1.5" stroke-linejoin="round" stroke-linecap="butt" clip-path="url(#cE)"/>
<path d="M50.00,481.53 C50.50,481.70 52.00,482.20 53.00,482.54 C54.00,482.87 55.00,483.20 56.00,483.53 C57.00,483.85 58.00,484.18 59.00,484.51 C60.00,484.83 61.00,485.15 62.00,485.48 C63.00,485.80 64.00,486.12 65.00,486.43 C66.00,486.75 67.00,487.07 68.00,487.38 C69.00,487.69 70.00,488.01 71.00,488.32 C72.00,488.63 73.00,488.94 74.00,489.24 C75.00,489.55 76.00,489.85 77.00,490.16 C78.00,490.46 79.00,490.76 80.00,491.06 C81.00,491.36 82.00,491.66 83.00,491.96 C84.00,492.25 85.00,492.55 86.00,492.84 C87.00,493.13 88.00,493.42 89.00,493.71 C90.00,494.00 91.00,494.29 92.00,494.57 C93.00,494.86 94.00,495.14 95.00,495.42 C96.00,495.71 97.00,495.99 98.00,496.26 C99.00,496.54 100.00,496.82 101.00,497.10 C102.00,497.37 103.00,497.64 104.00,497.92 C105.00,498.19 106.00,498.46 107.00,498.72 C108.00,498.99 109.00,499.26 110.00,499.52 C111.00,499.79 112.00,500.05 113.00,500.31 C114.00,500.57 115.00,500.83 116.00,501.09 C117.00,501.35 118.00,501.61 119.00,501.86 C120.00,502.11 121.00,502.37 122.00,502.62 C123.00,502.87 124.00,503.12 125.00,503.37 C126.00,503.61 127.00,503.86 128.00,504.10 C129.00,504.35 130.00,504.59 131.00,504.83 C132.00,505.07 133.00,505.31 134.00,505.55 C135.00,505.79 136.00,506.02 137.00,506.26 C138.00,506.49 139.00,506.72 140.00,506.95 C141.00,507.18 142.00,507.41 143.00,507.64 C144.00,507.87 145.00,508.09 146.00,508.32 C147.00,508.54 148.00,508.76 149.00,508.98 C150.00,509.21 151.00,509.42 152.00,509.64 C153.00,509.86 154.00,510.08 155.00,510.29 C156.00,510.50 157.00,510.72 158.00,510.93 C159.00,511.14 160.00,511.35 161.00,511.56 C162.00,511.76 163.00,511.97 164.00,512.17 C165.00,512.38 166.00,512.58 167.00,512.78 C168.00,512.98 169.00,513.18 170.00,513.38 C171.00,513.58 172.00,513.78 173.00,513.97 C174.00,514.17 175.00,514.36 176.00,514.55 C177.00,514.74 178.00,514.93 179.00,515.12 C180.00,515.31 181.00,515.49 182.00,515.68 C183.00,515.86 184.00,516.05 185.00,516.23 C186.00,516.41 187.00,516.59 188.00,516.77 C189.00,516.95 190.00,517.13 191.00,517.30 C192.00,517.48 193.00,517.65 194.00,517.83 C195.00,518.00 196.00,518.17 197.00,518.34 C198.00,518.51 199.00,518.68 200.00,518.84 C201.00,519.01 202.00,519.17 203.00,519.34 C204.00,519.50 205.00,519.66 206.00,519.82 C207.00,519.98 208.00,520.14 209.00,520.30 C210.00,520.45 211.00,520.61 212.00,520.76 C213.00,520.92 214.00,521.07 215.00,521.22 C216.00,521.37 217.00,521.52 218.00,521.67 C219.00,521.81 220.00,521.96 221.00,522.11 C222.00,522.25 223.00,522.39 224.00,522.53 C225.00,522.68 226.00,522.82 227.00,522.96 C228.00,523.09 229.00,523.23 230.00,523.37 C231.00,523.50 232.00,523.64 233.00,523.77 C234.00,523.90 235.00,524.03 236.00,524.16 C237.00,524.29 238.00,524.42 239.00,524.55 C240.00,524.67 241.00,524.80 242.00,524.92 C243.00,525.05 244.00,525.17 245.00,525.29 C246.00,525.41 247.00,525.53 248.00,525.65 C249.00,525.76 250.00,525.88 251.00,526.00 C252.00,526.11 253.00,526.22 254.00,526.34 C255.00,526.45 256.00,526.56 257.00,526.67 C258.00,526.78 259.17,526.90 260.00,526.99 C260.83,527.08 261.67,527.16 262.00,527.20" fill="none" stroke="#d95319" stroke-width="1.5" stroke-linejoin="round" stroke-linecap="butt" clip-path="url(#cE)"/>
<path d="M50.00,504.18 C50.50,504.21 52.00,504.28 53.00,504.35 C54.00,504.42 55.00,504.51 56.00,504.61 C57.00,504.71 58.00,504.82 59.00,504.95 C60.00,505.08 61.00,505.22 62.00,505.38 C63.00,505.53 64.00,505.70 65.00,505.87 C66.00,506.05 67.00,506.24 68.00,506.44 C69.00,506.64 70.00,506.85 71.00,507.07 C72.00,507.29 73.00,507.52 74.00,507.76 C75.00,508.00 76.00,508.25 77.00,508.50 C78.00,508.76 79.00,509.02 80.00,509.29 C81.00,509.56 82.00,509.84 83.00,510.12 C84.00,510.41 85.00,510.70 86.00,510.99 C87.00,511.29 88.00,511.59 89.00,511.89 C90.00,512.20 91.00,512.51 92.00,512.82 C93.00,513.14 94.00,513.45 95.00,513.77 C96.00,514.09 97.00,514.41 98.00,514.74 C99.00,515.06 100.00,515.39 101.00,515.72 C102.00,516.04 103.00,516.38 104.00,516.71 C105.00,517.04 106.00,517.37 107.00,517.71 C108.00,518.04 109.00,518.38 110.00,518.72 C111.00,519.06 112.00,519.39 113.00,519.73 C114.00,520.07 115.00,520.41 116.00,520.75 C117.00,521.09 118.00,521.43 119.00,521.78 C120.00,522.12 121.00,522.46 122.00,522.80 C123.00,523.14 124.00,523.48 125.00,523.82 C126.00,524.16 127.00,524.50 128.00,524.84 C129.00,525.18 130.00,525.51 131.00,525.85 C132.00,526.19 133.00,526.52 134.00,526.85 C135.00,527.19 136.00,527.52 137.00,527.85 C138.00,528.18 139.00,528.51 140.00,528.84 C141.00,529.16 142.00,529.49 143.00,529.81 C144.00,530.13 145.00,530.45 146.00,530.77 C147.00,531.08 148.00,531.40 149.00,531.71 C150.00,532.02 151.00,532.33 152.00,532.63 C153.00,532.93 154.00,533.23 155.00,533.53 C156.00,533.83 157.00,534.12 158.00,534.41 C159.00,534.71 160.00,534.99 161.00,535.28 C162.00,535.56 163.00,535.84 164.00,536.12 C165.00,536.40 166.00,536.67 167.00,536.94 C168.00,537.21 169.00,537.48 170.00,537.74 C171.00,538.00 172.00,538.26 173.00,538.51 C174.00,538.77 175.00,539.02 176.00,539.27 C177.00,539.52 178.00,539.76 179.00,540.00 C180.00,540.24 181.00,540.48 182.00,540.71 C183.00,540.94 184.00,541.17 185.00,541.39 C186.00,541.62 187.00,541.84 188.00,542.06 C189.00,542.27 190.00,542.48 191.00,542.69 C192.00,542.90 193.00,543.10 194.00,543.30 C195.00,543.50 196.00,543.70 197.00,543.89 C198.00,544.08 199.00,544.27 200.00,544.45 C201.00,544.63 202.00,544.81 203.00,544.98 C204.00,545.16 205.00,545.33 206.00,545.49 C207.00,545.66 208.00,545.82 209.00,545.97 C210.00,546.13 211.00,546.28 212.00,546.43 C213.00,546.57 214.00,546.72 215.00,546.85 C216.00,546.99 217.00,547.12 218.00,547.25 C219.00,547.38 220.00,547.50 221.00,547.62 C222.00,547.74 223.00,547.85 224.00,547.96 C225.00,548.07 226.00,548.17 227.00,548.27 C228.00,548.37 229.00,548.47 230.00,548.56 C231.00,548.64 232.00,548.73 233.00,548.81 C234.00,548.89 235.00,548.96 236.00,549.03 C237.00,549.10 238.00,549.16 239.00,549.22 C240.00,549.28 241.00,549.33 242.00,549.38 C243.00,549.42 244.00,549.47 245.00,549.50 C246.00,549.54 247.00,549.57 248.00,549.60 C249.00,549.62 250.00,549.65 251.00,549.66 C252.00,549.68 253.00,549.69 254.00,549.69 C255.00,549.69 256.00,549.69 257.00,549.69 C258.00,549.68 259.17,549.66 260.00,549.65 C260.83,549.63 261.67,549.61 262.00,549.60" fill="none" stroke="#edb120" stroke-width="1.5" stroke-linejoin="round" stroke-linecap="butt" clip-path="url(#cE)"/>
<path d="M47.40,553.91 C47.90,554.01 49.40,554.33 50.40,554.54 C51.40,554.75 52.40,554.96 53.40,555.16 C54.40,555.37 55.40,555.58 56.40,555.78 C57.40,555.99 58.40,556.19 59.40,556.39 C60.40,556.60 61.40,556.80 62.40,557.00 C63.40,557.20 64.40,557.40 65.40,557.59 C66.40,557.79 67.40,557.99 68.40,558.18 C69.40,558.38 70.40,558.57 71.40,558.76 C72.40,558.96 73.40,559.15 74.40,559.34 C75.40,559.53 76.40,559.72 77.40,559.90 C78.40,560.09 79.40,560.28 80.40,560.46 C81.40,560.65 82.40,560.83 83.40,561.01 C84.40,561.19 85.40,561.37 86.40,561.55 C87.40,561.73 88.40,561.91 89.40,562.08 C90.40,562.26 91.40,562.43 92.40,562.61 C93.40,562.78 94.40,562.95 95.40,563.12 C96.40,563.29 97.40,563.46 98.40,563.63 C99.40,563.80 100.40,563.96 101.40,564.13 C102.40,564.29 103.40,564.45 104.40,564.61 C105.40,564.77 106.40,564.93 107.40,565.09 C108.40,565.25 109.40,565.41 110.40,565.56 C111.40,565.71 112.40,565.87 113.40,566.02 C114.40,566.17 115.40,566.32 116.40,566.47 C117.40,566.62 118.40,566.76 119.40,566.91 C120.40,567.05 121.40,567.20 122.40,567.34 C123.40,567.48 124.40,567.62 125.40,567.76 C126.40,567.89 127.40,568.03 128.40,568.16 C129.40,568.30 130.40,568.43 131.40,568.56 C132.40,568.69 133.40,568.82 134.40,568.95 C135.40,569.08 136.40,569.20 137.40,569.33 C138.40,569.45 139.40,569.57 140.40,569.69 C141.40,569.81 142.40,569.93 143.40,570.04 C144.40,570.16 145.40,570.27 146.40,570.39 C147.40,570.50 148.40,570.61 149.40,570.72 C150.40,570.83 151.40,570.93 152.40,571.04 C153.40,571.14 154.40,571.25 155.40,571.35 C156.40,571.45 157.40,571.55 158.40,571.64 C159.40,571.74 160.40,571.83 161.40,571.93 C162.40,572.02 163.40,572.11 164.40,572.20 C165.40,572.29 166.40,572.37 167.40,572.46 C168.40,572.54 169.40,572.62 170.40,572.70 C171.40,572.79 172.40,572.86 173.40,572.94 C174.40,573.02 175.40,573.09 176.40,573.16 C177.40,573.23 178.40,573.30 179.40,573.37 C180.40,573.44 181.40,573.50 182.40,573.57 C183.40,573.63 184.40,573.69 185.40,573.75 C186.40,573.81 187.40,573.86 188.40,573.92 C189.40,573.97 190.40,574.02 191.40,574.07 C192.40,574.12 193.40,574.17 194.40,574.21 C195.40,574.26 196.40,574.30 197.40,574.34 C198.40,574.38 199.40,574.42 200.40,574.46 C201.40,574.49 202.40,574.53 203.40,574.56 C204.40,574.59 205.40,574.62 206.40,574.64 C207.40,574.67 208.40,574.69 209.40,574.71 C210.40,574.74 211.40,574.75 212.40,574.77 C213.40,574.79 214.40,574.80 215.40,574.81 C216.40,574.83 217.40,574.83 218.40,574.84 C219.40,574.85 220.40,574.85 221.40,574.85 C222.40,574.86 223.40,574.85 224.40,574.85 C225.40,574.85 226.40,574.84 227.40,574.83 C228.40,574.82 229.40,574.81 230.40,574.80 C231.40,574.79 232.40,574.77 233.40,574.75 C234.40,574.73 235.40,574.71 236.40,574.69 C237.40,574.66 238.40,574.64 239.40,574.61 C240.40,574.58 241.40,574.54 242.40,574.51 C243.40,574.47 244.40,574.44 245.40,574.40 C246.40,574.36 247.40,574.31 248.40,574.27 C249.40,574.22 250.40,574.17 251.40,574.12 C252.40,574.07 253.40,574.02 254.40,573.96 C255.40,573.90 256.40,573.84 257.40,573.78 C258.40,573.72 259.63,573.64 260.40,573.59 C261.17,573.54 261.73,573.49 262.00,573.48" fill="none" stroke="#7e2f8e" stroke-width="1.5" stroke-linejoin="round" stroke-linecap="butt" clip-path="url(#cE)"/>
<rect x="46.80" y="430.50" width="215.20" height="165.80" fill="none" stroke="#4d4d4d" stroke-width="1"/>
<line x1="46.80" y1="596.30" x2="46.80" y2="594.10" stroke="#4d4d4d" stroke-width="1"/>
<line x1="46.80" y1="430.50" x2="46.80" y2="432.70" stroke="#4d4d4d" stroke-width="1"/>
<text x="46.80" y="610.50" font-size="11.5" text-anchor="middle" font-weight="normal" fill="#1f1f1f">0</text>
<line x1="89.84" y1="596.30" x2="89.84" y2="594.10" stroke="#4d4d4d" stroke-width="1"/>
<line x1="89.84" y1="430.50" x2="89.84" y2="432.70" stroke="#4d4d4d" stroke-width="1"/>
<text x="89.84" y="610.50" font-size="11.5" text-anchor="middle" font-weight="normal" fill="#1f1f1f">20</text>
<line x1="132.88" y1="596.30" x2="132.88" y2="594.10" stroke="#4d4d4d" stroke-width="1"/>
<line x1="132.88" y1="430.50" x2="132.88" y2="432.70" stroke="#4d4d4d" stroke-width="1"/>
<text x="132.88" y="610.50" font-size="11.5" text-anchor="middle" font-weight="normal" fill="#1f1f1f">40</text>
<line x1="175.92" y1="596.30" x2="175.92" y2="594.10" stroke="#4d4d4d" stroke-width="1"/>
<line x1="175.92" y1="430.50" x2="175.92" y2="432.70" stroke="#4d4d4d" stroke-width="1"/>
<text x="175.92" y="610.50" font-size="11.5" text-anchor="middle" font-weight="normal" fill="#1f1f1f">60</text>
<line x1="218.96" y1="596.30" x2="218.96" y2="594.10" stroke="#4d4d4d" stroke-width="1"/>
<line x1="218.96" y1="430.50" x2="218.96" y2="432.70" stroke="#4d4d4d" stroke-width="1"/>
<text x="218.96" y="610.50" font-size="11.5" text-anchor="middle" font-weight="normal" fill="#1f1f1f">80</text>
<line x1="262.00" y1="596.30" x2="262.00" y2="594.10" stroke="#4d4d4d" stroke-width="1"/>
<line x1="262.00" y1="430.50" x2="262.00" y2="432.70" stroke="#4d4d4d" stroke-width="1"/>
<text x="262.00" y="610.50" font-size="11.5" text-anchor="middle" font-weight="normal" fill="#1f1f1f">100</text>
<line x1="46.80" y1="596.30" x2="49.00" y2="596.30" stroke="#4d4d4d" stroke-width="1"/>
<line x1="262.00" y1="596.30" x2="259.80" y2="596.30" stroke="#4d4d4d" stroke-width="1"/>
<text x="43.00" y="600.40" font-size="11.5" text-anchor="end" font-weight="normal" fill="#1f1f1f">0.4</text>
<line x1="46.80" y1="563.14" x2="49.00" y2="563.14" stroke="#4d4d4d" stroke-width="1"/>
<line x1="262.00" y1="563.14" x2="259.80" y2="563.14" stroke="#4d4d4d" stroke-width="1"/>
<text x="43.00" y="567.24" font-size="11.5" text-anchor="end" font-weight="normal" fill="#1f1f1f">0.6</text>
<line x1="46.80" y1="529.98" x2="49.00" y2="529.98" stroke="#4d4d4d" stroke-width="1"/>
<line x1="262.00" y1="529.98" x2="259.80" y2="529.98" stroke="#4d4d4d" stroke-width="1"/>
<text x="43.00" y="534.08" font-size="11.5" text-anchor="end" font-weight="normal" fill="#1f1f1f">0.8</text>
<line x1="46.80" y1="496.82" x2="49.00" y2="496.82" stroke="#4d4d4d" stroke-width="1"/>
<line x1="262.00" y1="496.82" x2="259.80" y2="496.82" stroke="#4d4d4d" stroke-width="1"/>
<text x="43.00" y="500.92" font-size="11.5" text-anchor="end" font-weight="normal" fill="#1f1f1f">1</text>
<line x1="46.80" y1="463.66" x2="49.00" y2="463.66" stroke="#4d4d4d" stroke-width="1"/>
<line x1="262.00" y1="463.66" x2="259.80" y2="463.66" stroke="#4d4d4d" stroke-width="1"/>
<text x="43.00" y="467.76" font-size="11.5" text-anchor="end" font-weight="normal" fill="#1f1f1f">1.2</text>
<line x1="46.80" y1="430.50" x2="49.00" y2="430.50" stroke="#4d4d4d" stroke-width="1"/>
<line x1="262.00" y1="430.50" x2="259.80" y2="430.50" stroke="#4d4d4d" stroke-width="1"/>
<text x="43.00" y="434.60" font-size="11.5" text-anchor="end" font-weight="normal" fill="#1f1f1f">1.4</text>
<rect x="161.90" y="435.40" width="94.70" height="45.20" fill="#fff" stroke="#333" stroke-width="0.9"/>
<line x1="163.60" y1="441.30" x2="180.30" y2="441.30" stroke="#0072bd" stroke-width="1.5"/>
<text x="183.90" y="443.90" font-size="8.8" text-anchor="start" font-weight="normal" fill="#1f1f1f">30% NAWM (ref)</text>
<line x1="163.60" y1="452.20" x2="180.30" y2="452.20" stroke="#d95319" stroke-width="1.5"/>
<text x="183.90" y="454.80" font-size="8.8" text-anchor="start" font-weight="normal" fill="#1f1f1f">40% NAWM</text>
<line x1="163.60" y1="463.30" x2="180.30" y2="463.30" stroke="#edb120" stroke-width="1.5"/>
<text x="183.90" y="465.90" font-size="8.8" text-anchor="start" font-weight="normal" fill="#1f1f1f">50% NAWM</text>
<line x1="163.60" y1="474.20" x2="180.30" y2="474.20" stroke="#7e2f8e" stroke-width="1.5"/>
<text x="183.90" y="476.80" font-size="8.8" text-anchor="start" font-weight="normal" fill="#1f1f1f">60% NAWM</text>
<text x="157.20" y="627.00" font-size="12" text-anchor="middle" font-weight="bold" fill="#1f1f1f">Percent rise in pyruvate</text>
<text transform="translate(15,515.8) rotate(-90)" font-size="12.25" font-weight="bold" text-anchor="middle" fill="#1f1f1f">Relative <tspan font-style="italic">k</tspan><tspan font-size="10" dy="1">PB,NAWM</tspan></text>
<text x="6.20" y="441.00" font-size="16.5" text-anchor="start" font-weight="bold" fill="#1f1f1f">E</text>
<path d="M325.60,429.40 C328.00,431.00 335.93,435.90 340.00,439.00 C344.07,442.10 346.67,445.08 350.00,448.00 C353.33,450.92 356.67,453.50 360.00,456.50 C363.33,459.50 366.67,462.83 370.00,466.00 C373.33,469.17 376.67,472.58 380.00,475.50 C383.33,478.42 386.67,481.18 390.00,483.50 C393.33,485.82 396.67,487.68 400.00,489.40 C403.33,491.12 405.83,492.58 410.00,493.80 C414.17,495.02 418.67,495.93 425.00,496.70 C431.33,497.47 440.33,497.35 448.00,498.40 C455.67,499.45 464.37,501.18 471.00,503.00 C477.63,504.82 482.57,507.20 487.80,509.30 C493.03,511.40 497.53,514.15 502.40,515.60 C507.27,517.05 512.82,517.93 517.00,518.00 C521.18,518.07 524.00,517.13 527.50,516.00 C531.00,514.87 536.25,512.00 538.00,511.20" fill="none" stroke="#edb120" stroke-width="1.5" stroke-linejoin="round" stroke-linecap="butt" clip-path="url(#cF)"/>
<path d="M322.40,502.50 C325.33,504.42 333.73,509.67 340.00,514.00 C346.27,518.33 353.33,523.75 360.00,528.50 C366.67,533.25 375.00,539.28 380.00,542.50 C385.00,545.72 386.67,546.32 390.00,547.80 C393.33,549.28 396.67,550.53 400.00,551.40 C403.33,552.27 405.83,552.63 410.00,553.00 C414.17,553.37 419.02,553.38 425.00,553.60 C430.98,553.82 438.93,553.73 445.90,554.30 C452.87,554.87 459.82,555.72 466.80,557.00 C473.78,558.28 480.12,560.37 487.80,562.00 C495.48,563.63 506.63,566.23 512.90,566.80 C519.17,567.37 521.22,566.73 525.40,565.40 C529.58,564.07 535.90,559.90 538.00,558.80" fill="none" stroke="#7e2f8e" stroke-width="1.5" stroke-linejoin="round" stroke-linecap="butt" clip-path="url(#cF)"/>
<path d="M326.00,544.40 C328.33,545.33 336.00,548.33 340.00,550.00 C344.00,551.67 346.67,552.98 350.00,554.40 C353.33,555.82 355.00,556.32 360.00,558.50 C365.00,560.68 373.33,564.67 380.00,567.50 C386.67,570.33 395.00,573.72 400.00,575.50 C405.00,577.28 405.83,577.45 410.00,578.20 C414.17,578.95 419.02,579.57 425.00,580.00 C430.98,580.43 437.90,580.38 445.90,580.80 C453.90,581.22 466.02,581.70 473.00,582.50 C479.98,583.30 480.47,584.20 487.80,585.60 C495.13,587.00 508.63,590.67 517.00,590.90 C525.37,591.13 534.50,587.65 538.00,587.00" fill="none" stroke="#d95319" stroke-width="1.5" stroke-linejoin="round" stroke-linecap="butt" clip-path="url(#cF)"/>
<path d="M326.00,562.40 C328.33,563.25 334.33,565.65 340.00,567.50 C345.67,569.35 353.33,571.45 360.00,573.50 C366.67,575.55 373.33,577.88 380.00,579.80 C386.67,581.72 395.00,583.80 400.00,585.00 C405.00,586.20 405.83,586.43 410.00,587.00 C414.17,587.57 419.02,587.93 425.00,588.40 C430.98,588.87 438.93,589.38 445.90,589.80 C452.87,590.22 459.82,590.37 466.80,590.90 C473.78,591.43 480.82,592.32 487.80,593.00 C494.78,593.68 500.33,594.77 508.70,595.00 C517.07,595.23 533.12,594.50 538.00,594.40" fill="none" stroke="#0072bd" stroke-width="1.5" stroke-linejoin="round" stroke-linecap="butt" clip-path="url(#cF)"/>
<rect x="322.50" y="429.60" width="215.00" height="166.40" fill="none" stroke="#4d4d4d" stroke-width="1"/>
<line x1="322.50" y1="596.00" x2="322.50" y2="593.80" stroke="#4d4d4d" stroke-width="1"/>
<line x1="322.50" y1="429.60" x2="322.50" y2="431.80" stroke="#4d4d4d" stroke-width="1"/>
<text x="322.50" y="610.20" font-size="11.5" text-anchor="middle" font-weight="normal" fill="#1f1f1f">0</text>
<line x1="365.50" y1="596.00" x2="365.50" y2="593.80" stroke="#4d4d4d" stroke-width="1"/>
<line x1="365.50" y1="429.60" x2="365.50" y2="431.80" stroke="#4d4d4d" stroke-width="1"/>
<text x="365.50" y="610.20" font-size="11.5" text-anchor="middle" font-weight="normal" fill="#1f1f1f">20</text>
<line x1="408.50" y1="596.00" x2="408.50" y2="593.80" stroke="#4d4d4d" stroke-width="1"/>
<line x1="408.50" y1="429.60" x2="408.50" y2="431.80" stroke="#4d4d4d" stroke-width="1"/>
<text x="408.50" y="610.20" font-size="11.5" text-anchor="middle" font-weight="normal" fill="#1f1f1f">40</text>
<line x1="451.50" y1="596.00" x2="451.50" y2="593.80" stroke="#4d4d4d" stroke-width="1"/>
<line x1="451.50" y1="429.60" x2="451.50" y2="431.80" stroke="#4d4d4d" stroke-width="1"/>
<text x="451.50" y="610.20" font-size="11.5" text-anchor="middle" font-weight="normal" fill="#1f1f1f">60</text>
<line x1="494.50" y1="596.00" x2="494.50" y2="593.80" stroke="#4d4d4d" stroke-width="1"/>
<line x1="494.50" y1="429.60" x2="494.50" y2="431.80" stroke="#4d4d4d" stroke-width="1"/>
<text x="494.50" y="610.20" font-size="11.5" text-anchor="middle" font-weight="normal" fill="#1f1f1f">80</text>
<line x1="537.50" y1="596.00" x2="537.50" y2="593.80" stroke="#4d4d4d" stroke-width="1"/>
<line x1="537.50" y1="429.60" x2="537.50" y2="431.80" stroke="#4d4d4d" stroke-width="1"/>
<text x="537.50" y="610.20" font-size="11.5" text-anchor="middle" font-weight="normal" fill="#1f1f1f">100</text>
<line x1="322.50" y1="596.00" x2="324.70" y2="596.00" stroke="#4d4d4d" stroke-width="1"/>
<line x1="537.50" y1="596.00" x2="535.30" y2="596.00" stroke="#4d4d4d" stroke-width="1"/>
<text x="318.70" y="600.10" font-size="11.5" text-anchor="end" font-weight="normal" fill="#1f1f1f">1</text>
<line x1="322.50" y1="540.53" x2="324.70" y2="540.53" stroke="#4d4d4d" stroke-width="1"/>
<line x1="537.50" y1="540.53" x2="535.30" y2="540.53" stroke="#4d4d4d" stroke-width="1"/>
<text x="318.70" y="544.63" font-size="11.5" text-anchor="end" font-weight="normal" fill="#1f1f1f">1.5</text>
<line x1="322.50" y1="485.07" x2="324.70" y2="485.07" stroke="#4d4d4d" stroke-width="1"/>
<line x1="537.50" y1="485.07" x2="535.30" y2="485.07" stroke="#4d4d4d" stroke-width="1"/>
<text x="318.70" y="489.17" font-size="11.5" text-anchor="end" font-weight="normal" fill="#1f1f1f">2</text>
<line x1="322.50" y1="429.60" x2="324.70" y2="429.60" stroke="#4d4d4d" stroke-width="1"/>
<line x1="537.50" y1="429.60" x2="535.30" y2="429.60" stroke="#4d4d4d" stroke-width="1"/>
<text x="318.70" y="433.70" font-size="11.5" text-anchor="end" font-weight="normal" fill="#1f1f1f">2.5</text>
<rect x="437.70" y="434.80" width="94.50" height="44.40" fill="#fff" stroke="#333" stroke-width="0.9"/>
<line x1="439.40" y1="440.70" x2="459.30" y2="440.70" stroke="#0072bd" stroke-width="1.5"/>
<text x="463.50" y="443.30" font-size="8.8" text-anchor="start" font-weight="normal" fill="#1f1f1f">30% NAWM (ref)</text>
<line x1="439.40" y1="451.60" x2="459.30" y2="451.60" stroke="#d95319" stroke-width="1.5"/>
<text x="463.50" y="454.20" font-size="8.8" text-anchor="start" font-weight="normal" fill="#1f1f1f">40% NAWM</text>
<line x1="439.40" y1="462.20" x2="459.30" y2="462.20" stroke="#edb120" stroke-width="1.5"/>
<text x="463.50" y="464.80" font-size="8.8" text-anchor="start" font-weight="normal" fill="#1f1f1f">50% NAWM</text>
<line x1="439.40" y1="473.10" x2="459.30" y2="473.10" stroke="#7e2f8e" stroke-width="1.5"/>
<text x="463.50" y="475.70" font-size="8.8" text-anchor="start" font-weight="normal" fill="#1f1f1f">60% NAWM</text>
<text x="430.00" y="626.30" font-size="12" text-anchor="middle" font-weight="bold" fill="#1f1f1f">Percent rise in pyruvate</text>
<text transform="translate(295.8,521.2) rotate(-90)" font-size="12.25" font-weight="bold" text-anchor="middle" fill="#1f1f1f">Relative <tspan font-style="italic">k</tspan><tspan font-size="10" dy="1">PB,NAWM</tspan><tspan dy="-1"> error</tspan></text>
<text x="286.00" y="440.10" font-size="16.5" text-anchor="start" font-weight="bold" fill="#1f1f1f">F</text>
</svg></body></html>
